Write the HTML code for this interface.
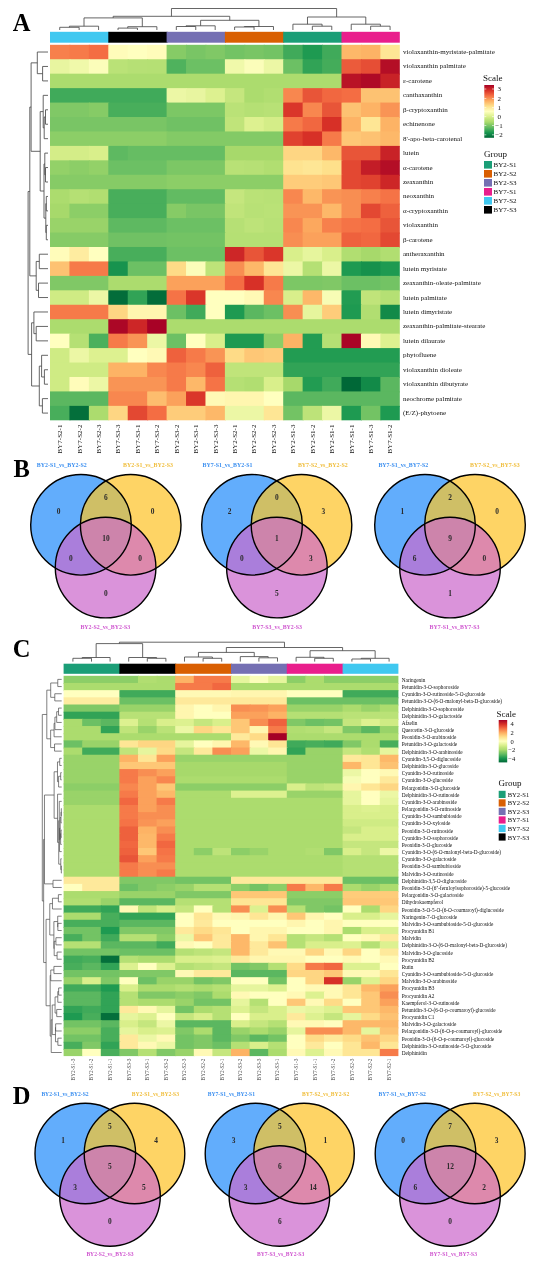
<!DOCTYPE html><html><head><meta charset="utf-8"><title>Figure</title><style>html,body{margin:0;padding:0;background:#fff;}svg{display:block;}</style></head><body>
<svg width="550" height="1264" viewBox="0 0 550 1264" font-family="'Liberation Serif','Times New Roman',serif">
<rect width="550" height="1264" fill="#fff"/>
<text x="12.8" y="30.5" font-size="24.5" font-weight="bold" fill="#000">A</text>
<text x="13.6" y="477.2" font-size="24.5" font-weight="bold" fill="#000">B</text>
<text x="12.8" y="656.8" font-size="24.5" font-weight="bold" fill="#000">C</text>
<text x="12.8" y="1104.3" font-size="24.5" font-weight="bold" fill="#000">D</text>
<rect x="50" y="44.8" width="20.43" height="15.44" fill="#f7804c"/>
<rect x="69.43" y="44.8" width="20.43" height="15.44" fill="#f67a49"/>
<rect x="88.87" y="44.8" width="20.43" height="15.44" fill="#f46d43"/>
<rect x="108.3" y="44.8" width="20.43" height="15.44" fill="#fffcba"/>
<rect x="127.73" y="44.8" width="20.43" height="15.44" fill="#ffffbf"/>
<rect x="147.17" y="44.8" width="20.43" height="15.44" fill="#fffcba"/>
<rect x="166.6" y="44.8" width="20.43" height="15.44" fill="#86cb66"/>
<rect x="186.03" y="44.8" width="20.43" height="15.44" fill="#79c565"/>
<rect x="205.47" y="44.8" width="20.43" height="15.44" fill="#80c866"/>
<rect x="224.9" y="44.8" width="20.43" height="15.44" fill="#73c364"/>
<rect x="244.33" y="44.8" width="20.43" height="15.44" fill="#79c565"/>
<rect x="263.77" y="44.8" width="20.43" height="15.44" fill="#73c364"/>
<rect x="283.2" y="44.8" width="20.43" height="15.44" fill="#40aa5a"/>
<rect x="302.63" y="44.8" width="20.43" height="15.44" fill="#1e9a51"/>
<rect x="322.07" y="44.8" width="20.43" height="15.44" fill="#40aa5a"/>
<rect x="341.5" y="44.8" width="20.43" height="15.44" fill="#fdb869"/>
<rect x="360.93" y="44.8" width="20.43" height="15.44" fill="#fdb365"/>
<rect x="380.37" y="44.8" width="19.43" height="15.44" fill="#fee695"/>
<rect x="50" y="59.24" width="20.43" height="15.44" fill="#e8f5a0"/>
<rect x="69.43" y="59.24" width="20.43" height="15.44" fill="#f0f9aa"/>
<rect x="88.87" y="59.24" width="20.43" height="15.44" fill="#fbfdba"/>
<rect x="108.3" y="59.24" width="20.43" height="15.44" fill="#bae277"/>
<rect x="127.73" y="59.24" width="20.43" height="15.44" fill="#b6e075"/>
<rect x="147.17" y="59.24" width="20.43" height="15.44" fill="#b5e074"/>
<rect x="166.6" y="59.24" width="20.43" height="15.44" fill="#4fb25d"/>
<rect x="186.03" y="59.24" width="39.87" height="15.44" fill="#6cc064"/>
<rect x="224.9" y="59.24" width="20.43" height="15.44" fill="#f0f9aa"/>
<rect x="244.33" y="59.24" width="20.43" height="15.44" fill="#fbfdba"/>
<rect x="263.77" y="59.24" width="20.43" height="15.44" fill="#ecf7a5"/>
<rect x="283.2" y="59.24" width="20.43" height="15.44" fill="#6cc064"/>
<rect x="302.63" y="59.24" width="20.43" height="15.44" fill="#31a356"/>
<rect x="322.07" y="59.24" width="20.43" height="15.44" fill="#44ac5a"/>
<rect x="341.5" y="59.24" width="20.43" height="15.44" fill="#eb5b3b"/>
<rect x="360.93" y="59.24" width="20.43" height="15.44" fill="#e64e35"/>
<rect x="380.37" y="59.24" width="19.43" height="15.44" fill="#b40e26"/>
<rect x="50" y="73.68" width="292.5" height="15.44" fill="#acdc6e"/>
<rect x="341.5" y="73.68" width="20.43" height="15.44" fill="#b91326"/>
<rect x="360.93" y="73.68" width="20.43" height="15.44" fill="#af0a26"/>
<rect x="380.37" y="73.68" width="19.43" height="15.44" fill="#c82227"/>
<rect x="50" y="88.13" width="117.6" height="15.44" fill="#40aa5a"/>
<rect x="166.6" y="88.13" width="20.43" height="15.44" fill="#ecf7a5"/>
<rect x="186.03" y="88.13" width="20.43" height="15.44" fill="#e8f5a0"/>
<rect x="205.47" y="88.13" width="20.43" height="15.44" fill="#ddf190"/>
<rect x="224.9" y="88.13" width="20.43" height="15.44" fill="#c5e67e"/>
<rect x="244.33" y="88.13" width="20.43" height="15.44" fill="#acdc6e"/>
<rect x="263.77" y="88.13" width="20.43" height="15.44" fill="#b1de71"/>
<rect x="283.2" y="88.13" width="20.43" height="15.44" fill="#f8874f"/>
<rect x="302.63" y="88.13" width="20.43" height="15.44" fill="#e85538"/>
<rect x="322.07" y="88.13" width="20.43" height="15.44" fill="#f16740"/>
<rect x="341.5" y="88.13" width="20.43" height="15.44" fill="#f46d43"/>
<rect x="360.93" y="88.13" width="38.87" height="15.44" fill="#fdc272"/>
<rect x="50" y="102.57" width="39.87" height="15.44" fill="#80c866"/>
<rect x="88.87" y="102.57" width="20.43" height="15.44" fill="#86cb66"/>
<rect x="108.3" y="102.57" width="59.3" height="15.44" fill="#48ae5b"/>
<rect x="166.6" y="102.57" width="59.3" height="15.44" fill="#7cc765"/>
<rect x="224.9" y="102.57" width="20.43" height="15.44" fill="#bae277"/>
<rect x="244.33" y="102.57" width="20.43" height="15.44" fill="#b5e074"/>
<rect x="263.77" y="102.57" width="20.43" height="15.44" fill="#b8e176"/>
<rect x="283.2" y="102.57" width="20.43" height="15.44" fill="#da362a"/>
<rect x="302.63" y="102.57" width="20.43" height="15.44" fill="#f8874f"/>
<rect x="322.07" y="102.57" width="20.43" height="15.44" fill="#e85538"/>
<rect x="341.5" y="102.57" width="20.43" height="15.44" fill="#fdc272"/>
<rect x="360.93" y="102.57" width="20.43" height="15.44" fill="#fdb365"/>
<rect x="380.37" y="102.57" width="19.43" height="15.44" fill="#f99455"/>
<rect x="50" y="117.01" width="117.6" height="15.44" fill="#79c565"/>
<rect x="166.6" y="117.01" width="59.3" height="15.44" fill="#70c164"/>
<rect x="224.9" y="117.01" width="20.43" height="15.44" fill="#c0e47a"/>
<rect x="244.33" y="117.01" width="20.43" height="15.44" fill="#ddf190"/>
<rect x="263.77" y="117.01" width="20.43" height="15.44" fill="#d4ed88"/>
<rect x="283.2" y="117.01" width="20.43" height="15.44" fill="#f67a49"/>
<rect x="302.63" y="117.01" width="20.43" height="15.44" fill="#f16740"/>
<rect x="322.07" y="117.01" width="20.43" height="15.44" fill="#d73027"/>
<rect x="341.5" y="117.01" width="20.43" height="15.44" fill="#fdb365"/>
<rect x="360.93" y="117.01" width="20.43" height="15.44" fill="#fee695"/>
<rect x="380.37" y="117.01" width="19.43" height="15.44" fill="#fdb365"/>
<rect x="50" y="131.45" width="117.6" height="15.44" fill="#8cce67"/>
<rect x="166.6" y="131.45" width="117.6" height="15.44" fill="#83ca66"/>
<rect x="283.2" y="131.45" width="20.43" height="15.44" fill="#e0422f"/>
<rect x="302.63" y="131.45" width="20.43" height="15.44" fill="#d73027"/>
<rect x="322.07" y="131.45" width="20.43" height="15.44" fill="#f67a49"/>
<rect x="341.5" y="131.45" width="20.43" height="15.44" fill="#fec776"/>
<rect x="360.93" y="131.45" width="20.43" height="15.44" fill="#fdc272"/>
<rect x="380.37" y="131.45" width="19.43" height="15.44" fill="#fdb869"/>
<rect x="50" y="145.9" width="39.87" height="15.44" fill="#d4ed88"/>
<rect x="88.87" y="145.9" width="20.43" height="15.44" fill="#d9ef8b"/>
<rect x="108.3" y="145.9" width="20.43" height="15.44" fill="#5eb961"/>
<rect x="127.73" y="145.9" width="98.17" height="15.44" fill="#66bd63"/>
<rect x="224.9" y="145.9" width="59.3" height="15.44" fill="#a7d96b"/>
<rect x="283.2" y="145.9" width="39.87" height="15.44" fill="#fed683"/>
<rect x="322.07" y="145.9" width="20.43" height="15.44" fill="#fdb869"/>
<rect x="341.5" y="145.9" width="39.87" height="15.44" fill="#e85538"/>
<rect x="380.37" y="145.9" width="19.43" height="15.44" fill="#c82227"/>
<rect x="50" y="160.34" width="20.43" height="15.44" fill="#93d168"/>
<rect x="69.43" y="160.34" width="20.43" height="15.44" fill="#8cce67"/>
<rect x="88.87" y="160.34" width="20.43" height="15.44" fill="#93d168"/>
<rect x="108.3" y="160.34" width="59.3" height="15.44" fill="#6cc064"/>
<rect x="166.6" y="160.34" width="59.3" height="15.44" fill="#7cc765"/>
<rect x="224.9" y="160.34" width="20.43" height="15.44" fill="#b8e176"/>
<rect x="244.33" y="160.34" width="20.43" height="15.44" fill="#b6e075"/>
<rect x="263.77" y="160.34" width="20.43" height="15.44" fill="#b1de71"/>
<rect x="283.2" y="160.34" width="20.43" height="15.44" fill="#fee390"/>
<rect x="302.63" y="160.34" width="20.43" height="15.44" fill="#fee695"/>
<rect x="322.07" y="160.34" width="20.43" height="15.44" fill="#fee08b"/>
<rect x="341.5" y="160.34" width="20.43" height="15.44" fill="#e34832"/>
<rect x="360.93" y="160.34" width="20.43" height="15.44" fill="#c31d27"/>
<rect x="380.37" y="160.34" width="19.43" height="15.44" fill="#b40e26"/>
<rect x="50" y="174.78" width="117.6" height="15.44" fill="#86cb66"/>
<rect x="166.6" y="174.78" width="117.6" height="15.44" fill="#8cce67"/>
<rect x="283.2" y="174.78" width="39.87" height="15.44" fill="#fecc7a"/>
<rect x="322.07" y="174.78" width="20.43" height="15.44" fill="#fec776"/>
<rect x="341.5" y="174.78" width="20.43" height="15.44" fill="#e34832"/>
<rect x="360.93" y="174.78" width="20.43" height="15.44" fill="#e0422f"/>
<rect x="380.37" y="174.78" width="19.43" height="15.44" fill="#cd2627"/>
<rect x="50" y="189.22" width="20.43" height="15.44" fill="#acdc6e"/>
<rect x="69.43" y="189.22" width="20.43" height="15.44" fill="#b5e074"/>
<rect x="88.87" y="189.22" width="20.43" height="15.44" fill="#b1de71"/>
<rect x="108.3" y="189.22" width="59.3" height="15.44" fill="#48ae5b"/>
<rect x="166.6" y="189.22" width="59.3" height="15.44" fill="#62bb62"/>
<rect x="224.9" y="189.22" width="20.43" height="15.44" fill="#c5e67e"/>
<rect x="244.33" y="189.22" width="20.43" height="15.44" fill="#bae277"/>
<rect x="263.77" y="189.22" width="20.43" height="15.44" fill="#b8e176"/>
<rect x="283.2" y="189.22" width="20.43" height="15.44" fill="#f8874f"/>
<rect x="302.63" y="189.22" width="20.43" height="15.44" fill="#fdb869"/>
<rect x="322.07" y="189.22" width="20.43" height="15.44" fill="#f99455"/>
<rect x="341.5" y="189.22" width="20.43" height="15.44" fill="#f88e52"/>
<rect x="360.93" y="189.22" width="20.43" height="15.44" fill="#f7804c"/>
<rect x="380.37" y="189.22" width="19.43" height="15.44" fill="#f57346"/>
<rect x="50" y="203.67" width="20.43" height="15.44" fill="#a7d96b"/>
<rect x="69.43" y="203.67" width="39.87" height="15.44" fill="#8cce67"/>
<rect x="108.3" y="203.67" width="59.3" height="15.44" fill="#48ae5b"/>
<rect x="166.6" y="203.67" width="20.43" height="15.44" fill="#86cb66"/>
<rect x="186.03" y="203.67" width="39.87" height="15.44" fill="#79c565"/>
<rect x="224.9" y="203.67" width="20.43" height="15.44" fill="#c0e47a"/>
<rect x="244.33" y="203.67" width="20.43" height="15.44" fill="#b8e176"/>
<rect x="263.77" y="203.67" width="20.43" height="15.44" fill="#bae277"/>
<rect x="283.2" y="203.67" width="39.87" height="15.44" fill="#f99455"/>
<rect x="322.07" y="203.67" width="20.43" height="15.44" fill="#fdb869"/>
<rect x="341.5" y="203.67" width="20.43" height="15.44" fill="#f88e52"/>
<rect x="360.93" y="203.67" width="20.43" height="15.44" fill="#e34832"/>
<rect x="380.37" y="203.67" width="19.43" height="15.44" fill="#ee613d"/>
<rect x="50" y="218.11" width="59.3" height="15.44" fill="#99d369"/>
<rect x="108.3" y="218.11" width="59.3" height="15.44" fill="#5eb961"/>
<rect x="166.6" y="218.11" width="59.3" height="15.44" fill="#6cc064"/>
<rect x="224.9" y="218.11" width="20.43" height="15.44" fill="#b6e075"/>
<rect x="244.33" y="218.11" width="20.43" height="15.44" fill="#bde379"/>
<rect x="263.77" y="218.11" width="20.43" height="15.44" fill="#b8e176"/>
<rect x="283.2" y="218.11" width="20.43" height="15.44" fill="#f8874f"/>
<rect x="302.63" y="218.11" width="20.43" height="15.44" fill="#fca85e"/>
<rect x="322.07" y="218.11" width="20.43" height="15.44" fill="#f7804c"/>
<rect x="341.5" y="218.11" width="20.43" height="15.44" fill="#f57346"/>
<rect x="360.93" y="218.11" width="20.43" height="15.44" fill="#f46d43"/>
<rect x="380.37" y="218.11" width="19.43" height="15.44" fill="#e85538"/>
<rect x="50" y="232.55" width="59.3" height="15.44" fill="#86cb66"/>
<rect x="108.3" y="232.55" width="59.3" height="15.44" fill="#70c164"/>
<rect x="166.6" y="232.55" width="59.3" height="15.44" fill="#73c364"/>
<rect x="224.9" y="232.55" width="59.3" height="15.44" fill="#b5e074"/>
<rect x="283.2" y="232.55" width="20.43" height="15.44" fill="#f88e52"/>
<rect x="302.63" y="232.55" width="39.87" height="15.44" fill="#fba15b"/>
<rect x="341.5" y="232.55" width="20.43" height="15.44" fill="#ee613d"/>
<rect x="360.93" y="232.55" width="20.43" height="15.44" fill="#f16740"/>
<rect x="380.37" y="232.55" width="19.43" height="15.44" fill="#e34832"/>
<rect x="50" y="246.99" width="20.43" height="15.44" fill="#fffcba"/>
<rect x="69.43" y="246.99" width="20.43" height="15.44" fill="#feeca0"/>
<rect x="88.87" y="246.99" width="20.43" height="15.44" fill="#ffffbf"/>
<rect x="108.3" y="246.99" width="59.3" height="15.44" fill="#48ae5b"/>
<rect x="166.6" y="246.99" width="59.3" height="15.44" fill="#6cc064"/>
<rect x="224.9" y="246.99" width="20.43" height="15.44" fill="#cd2627"/>
<rect x="244.33" y="246.99" width="20.43" height="15.44" fill="#e85538"/>
<rect x="263.77" y="246.99" width="20.43" height="15.44" fill="#da362a"/>
<rect x="283.2" y="246.99" width="20.43" height="15.44" fill="#d9ef8b"/>
<rect x="302.63" y="246.99" width="20.43" height="15.44" fill="#e6f59d"/>
<rect x="322.07" y="246.99" width="20.43" height="15.44" fill="#d9ef8b"/>
<rect x="341.5" y="246.99" width="20.43" height="15.44" fill="#b1de71"/>
<rect x="360.93" y="246.99" width="20.43" height="15.44" fill="#a7d96b"/>
<rect x="380.37" y="246.99" width="19.43" height="15.44" fill="#b1de71"/>
<rect x="50" y="261.43" width="20.43" height="15.44" fill="#fdc272"/>
<rect x="69.43" y="261.43" width="39.87" height="15.44" fill="#f67a49"/>
<rect x="108.3" y="261.43" width="20.43" height="15.44" fill="#17934e"/>
<rect x="127.73" y="261.43" width="39.87" height="15.44" fill="#6cc064"/>
<rect x="166.6" y="261.43" width="20.43" height="15.44" fill="#fedb87"/>
<rect x="186.03" y="261.43" width="20.43" height="15.44" fill="#fbfdba"/>
<rect x="205.47" y="261.43" width="20.43" height="15.44" fill="#bde379"/>
<rect x="224.9" y="261.43" width="20.43" height="15.44" fill="#f88e52"/>
<rect x="244.33" y="261.43" width="20.43" height="15.44" fill="#fdb869"/>
<rect x="263.77" y="261.43" width="20.43" height="15.44" fill="#fee695"/>
<rect x="283.2" y="261.43" width="20.43" height="15.44" fill="#ecf7a5"/>
<rect x="302.63" y="261.43" width="20.43" height="15.44" fill="#b5e074"/>
<rect x="322.07" y="261.43" width="20.43" height="15.44" fill="#ecf7a5"/>
<rect x="341.5" y="261.43" width="20.43" height="15.44" fill="#1e9a51"/>
<rect x="360.93" y="261.43" width="20.43" height="15.44" fill="#16914c"/>
<rect x="380.37" y="261.43" width="19.43" height="15.44" fill="#1e9a51"/>
<rect x="50" y="275.88" width="59.3" height="15.44" fill="#80c866"/>
<rect x="108.3" y="275.88" width="59.3" height="15.44" fill="#acdc6e"/>
<rect x="166.6" y="275.88" width="59.3" height="15.44" fill="#fba15b"/>
<rect x="224.9" y="275.88" width="20.43" height="15.44" fill="#f46d43"/>
<rect x="244.33" y="275.88" width="20.43" height="15.44" fill="#d73027"/>
<rect x="263.77" y="275.88" width="20.43" height="15.44" fill="#f67a49"/>
<rect x="283.2" y="275.88" width="39.87" height="15.44" fill="#7cc765"/>
<rect x="322.07" y="275.88" width="20.43" height="15.44" fill="#80c866"/>
<rect x="341.5" y="275.88" width="39.87" height="15.44" fill="#6cc064"/>
<rect x="380.37" y="275.88" width="19.43" height="15.44" fill="#73c364"/>
<rect x="50" y="290.32" width="39.87" height="15.44" fill="#cfeb84"/>
<rect x="88.87" y="290.32" width="20.43" height="15.44" fill="#ecf7a5"/>
<rect x="108.3" y="290.32" width="20.43" height="15.44" fill="#036d3a"/>
<rect x="127.73" y="290.32" width="20.43" height="15.44" fill="#31a356"/>
<rect x="147.17" y="290.32" width="20.43" height="15.44" fill="#036d3a"/>
<rect x="166.6" y="290.32" width="20.43" height="15.44" fill="#f57346"/>
<rect x="186.03" y="290.32" width="20.43" height="15.44" fill="#da362a"/>
<rect x="205.47" y="290.32" width="39.87" height="15.44" fill="#ffffbf"/>
<rect x="244.33" y="290.32" width="20.43" height="15.44" fill="#fff9b5"/>
<rect x="263.77" y="290.32" width="20.43" height="15.44" fill="#f8874f"/>
<rect x="283.2" y="290.32" width="20.43" height="15.44" fill="#d9ef8b"/>
<rect x="302.63" y="290.32" width="20.43" height="15.44" fill="#fdb869"/>
<rect x="322.07" y="290.32" width="20.43" height="15.44" fill="#f7fcb5"/>
<rect x="341.5" y="290.32" width="20.43" height="15.44" fill="#229c52"/>
<rect x="360.93" y="290.32" width="20.43" height="15.44" fill="#c0e47a"/>
<rect x="380.37" y="290.32" width="19.43" height="15.44" fill="#b5e074"/>
<rect x="50" y="304.76" width="59.3" height="15.44" fill="#f67a49"/>
<rect x="108.3" y="304.76" width="20.43" height="15.44" fill="#fed683"/>
<rect x="127.73" y="304.76" width="39.87" height="15.44" fill="#fff6af"/>
<rect x="166.6" y="304.76" width="20.43" height="15.44" fill="#6cc064"/>
<rect x="186.03" y="304.76" width="20.43" height="15.44" fill="#40aa5a"/>
<rect x="205.47" y="304.76" width="20.43" height="15.44" fill="#ffffbf"/>
<rect x="224.9" y="304.76" width="20.43" height="15.44" fill="#1e9a51"/>
<rect x="244.33" y="304.76" width="20.43" height="15.44" fill="#5bb760"/>
<rect x="263.77" y="304.76" width="20.43" height="15.44" fill="#6cc064"/>
<rect x="283.2" y="304.76" width="20.43" height="15.44" fill="#f88e52"/>
<rect x="302.63" y="304.76" width="20.43" height="15.44" fill="#e6f59d"/>
<rect x="322.07" y="304.76" width="20.43" height="15.44" fill="#fecc7a"/>
<rect x="341.5" y="304.76" width="20.43" height="15.44" fill="#1e9a51"/>
<rect x="360.93" y="304.76" width="20.43" height="15.44" fill="#b1de71"/>
<rect x="380.37" y="304.76" width="19.43" height="15.44" fill="#128a48"/>
<rect x="50" y="319.2" width="59.3" height="15.44" fill="#acdc6e"/>
<rect x="108.3" y="319.2" width="20.43" height="15.44" fill="#ac0726"/>
<rect x="127.73" y="319.2" width="20.43" height="15.44" fill="#cd2627"/>
<rect x="147.17" y="319.2" width="20.43" height="15.44" fill="#a80226"/>
<rect x="166.6" y="319.2" width="233.2" height="15.44" fill="#acdc6e"/>
<rect x="50" y="333.65" width="20.43" height="15.44" fill="#ffffbf"/>
<rect x="69.43" y="333.65" width="20.43" height="15.44" fill="#b5e074"/>
<rect x="88.87" y="333.65" width="20.43" height="15.44" fill="#4bb05c"/>
<rect x="108.3" y="333.65" width="20.43" height="15.44" fill="#f67a49"/>
<rect x="127.73" y="333.65" width="20.43" height="15.44" fill="#f99455"/>
<rect x="147.17" y="333.65" width="20.43" height="15.44" fill="#ecf7a5"/>
<rect x="166.6" y="333.65" width="20.43" height="15.44" fill="#6cc064"/>
<rect x="186.03" y="333.65" width="20.43" height="15.44" fill="#ffffbf"/>
<rect x="205.47" y="333.65" width="20.43" height="15.44" fill="#d9ef8b"/>
<rect x="224.9" y="333.65" width="39.87" height="15.44" fill="#1e9a51"/>
<rect x="263.77" y="333.65" width="20.43" height="15.44" fill="#8cce67"/>
<rect x="283.2" y="333.65" width="20.43" height="15.44" fill="#fdb365"/>
<rect x="302.63" y="333.65" width="20.43" height="15.44" fill="#229c52"/>
<rect x="322.07" y="333.65" width="20.43" height="15.44" fill="#b5e074"/>
<rect x="341.5" y="333.65" width="20.43" height="15.44" fill="#aa0526"/>
<rect x="360.93" y="333.65" width="20.43" height="15.44" fill="#fff9b5"/>
<rect x="380.37" y="333.65" width="19.43" height="15.44" fill="#ddf190"/>
<rect x="50" y="348.09" width="20.43" height="15.44" fill="#cfeb84"/>
<rect x="69.43" y="348.09" width="20.43" height="15.44" fill="#ecf7a5"/>
<rect x="88.87" y="348.09" width="39.87" height="15.44" fill="#ddf190"/>
<rect x="127.73" y="348.09" width="20.43" height="15.44" fill="#ffffbf"/>
<rect x="147.17" y="348.09" width="20.43" height="15.44" fill="#fff9b5"/>
<rect x="166.6" y="348.09" width="20.43" height="15.44" fill="#ee613d"/>
<rect x="186.03" y="348.09" width="20.43" height="15.44" fill="#f67a49"/>
<rect x="205.47" y="348.09" width="20.43" height="15.44" fill="#f99455"/>
<rect x="224.9" y="348.09" width="20.43" height="15.44" fill="#fedb87"/>
<rect x="244.33" y="348.09" width="20.43" height="15.44" fill="#fec776"/>
<rect x="263.77" y="348.09" width="20.43" height="15.44" fill="#fecc7a"/>
<rect x="283.2" y="348.09" width="116.6" height="15.44" fill="#229c52"/>
<rect x="50" y="362.53" width="59.3" height="15.44" fill="#cfeb84"/>
<rect x="108.3" y="362.53" width="39.87" height="15.44" fill="#fdb365"/>
<rect x="147.17" y="362.53" width="20.43" height="15.44" fill="#f8874f"/>
<rect x="166.6" y="362.53" width="20.43" height="15.44" fill="#f67a49"/>
<rect x="186.03" y="362.53" width="20.43" height="15.44" fill="#f8874f"/>
<rect x="205.47" y="362.53" width="20.43" height="15.44" fill="#ee613d"/>
<rect x="224.9" y="362.53" width="59.3" height="15.44" fill="#c0e47a"/>
<rect x="283.2" y="362.53" width="116.6" height="15.44" fill="#31a356"/>
<rect x="50" y="376.97" width="20.43" height="15.44" fill="#cfeb84"/>
<rect x="69.43" y="376.97" width="20.43" height="15.44" fill="#fffcba"/>
<rect x="88.87" y="376.97" width="20.43" height="15.44" fill="#ecf7a5"/>
<rect x="108.3" y="376.97" width="59.3" height="15.44" fill="#f99455"/>
<rect x="166.6" y="376.97" width="20.43" height="15.44" fill="#f67a49"/>
<rect x="186.03" y="376.97" width="20.43" height="15.44" fill="#fdb869"/>
<rect x="205.47" y="376.97" width="20.43" height="15.44" fill="#f57346"/>
<rect x="224.9" y="376.97" width="20.43" height="15.44" fill="#b5e074"/>
<rect x="244.33" y="376.97" width="20.43" height="15.44" fill="#b1de71"/>
<rect x="263.77" y="376.97" width="20.43" height="15.44" fill="#d9ef8b"/>
<rect x="283.2" y="376.97" width="20.43" height="15.44" fill="#a7d96b"/>
<rect x="302.63" y="376.97" width="20.43" height="15.44" fill="#229c52"/>
<rect x="322.07" y="376.97" width="20.43" height="15.44" fill="#40aa5a"/>
<rect x="341.5" y="376.97" width="20.43" height="15.44" fill="#006837"/>
<rect x="360.93" y="376.97" width="20.43" height="15.44" fill="#128a48"/>
<rect x="380.37" y="376.97" width="19.43" height="15.44" fill="#5bb760"/>
<rect x="50" y="391.42" width="59.3" height="15.44" fill="#5bb760"/>
<rect x="108.3" y="391.42" width="39.87" height="15.44" fill="#f8874f"/>
<rect x="147.17" y="391.42" width="20.43" height="15.44" fill="#fdbd6e"/>
<rect x="166.6" y="391.42" width="20.43" height="15.44" fill="#fba15b"/>
<rect x="186.03" y="391.42" width="20.43" height="15.44" fill="#da362a"/>
<rect x="205.47" y="391.42" width="20.43" height="15.44" fill="#fff9b5"/>
<rect x="224.9" y="391.42" width="39.87" height="15.44" fill="#fff6af"/>
<rect x="263.77" y="391.42" width="20.43" height="15.44" fill="#ffffbf"/>
<rect x="283.2" y="391.42" width="116.6" height="15.44" fill="#5bb760"/>
<rect x="50" y="405.86" width="20.43" height="14.44" fill="#48ae5b"/>
<rect x="69.43" y="405.86" width="20.43" height="14.44" fill="#046f3b"/>
<rect x="88.87" y="405.86" width="20.43" height="14.44" fill="#acdc6e"/>
<rect x="108.3" y="405.86" width="20.43" height="14.44" fill="#fed683"/>
<rect x="127.73" y="405.86" width="20.43" height="14.44" fill="#e34832"/>
<rect x="147.17" y="405.86" width="20.43" height="14.44" fill="#f46d43"/>
<rect x="166.6" y="405.86" width="39.87" height="14.44" fill="#fecc7a"/>
<rect x="205.47" y="405.86" width="20.43" height="14.44" fill="#fdb869"/>
<rect x="224.9" y="405.86" width="39.87" height="14.44" fill="#ecf7a5"/>
<rect x="263.77" y="405.86" width="20.43" height="14.44" fill="#fee695"/>
<rect x="283.2" y="405.86" width="20.43" height="14.44" fill="#73c364"/>
<rect x="302.63" y="405.86" width="20.43" height="14.44" fill="#bde379"/>
<rect x="322.07" y="405.86" width="20.43" height="14.44" fill="#ecf7a5"/>
<rect x="341.5" y="405.86" width="20.43" height="14.44" fill="#1e9a51"/>
<rect x="360.93" y="405.86" width="20.43" height="14.44" fill="#73c364"/>
<rect x="380.37" y="405.86" width="19.43" height="14.44" fill="#1e9a51"/>
<rect x="50" y="31.8" width="59.3" height="10.9" fill="#40c8f0"/>
<rect x="108.3" y="31.8" width="59.3" height="10.9" fill="#000000"/>
<rect x="166.6" y="31.8" width="59.3" height="10.9" fill="#7570b3"/>
<rect x="224.9" y="31.8" width="59.3" height="10.9" fill="#d95f02"/>
<rect x="283.2" y="31.8" width="59.3" height="10.9" fill="#1b9e77"/>
<rect x="341.5" y="31.8" width="58.3" height="10.9" fill="#e91e8c"/>
<path d="M59.72 30L59.72 27.3 M79.15 30L79.15 27.3 M59.72 27.3L79.15 27.3 M69.43 27.3L69.43 26.2 M98.58 30L98.58 26.2 M69.43 26.2L98.58 26.2 M118.02 30L118.02 28.1 M137.45 30L137.45 28.1 M118.02 28.1L137.45 28.1 M127.73 28.1L127.73 26.7 M156.88 30L156.88 26.7 M127.73 26.7L156.88 26.7 M84.01 26.2L84.01 17.9 M142.31 26.7L142.31 17.9 M84.01 17.9L142.31 17.9 M176.32 30L176.32 26.5 M195.75 30L195.75 26.5 M176.32 26.5L195.75 26.5 M186.03 26.5L186.03 25.8 M215.18 30L215.18 25.8 M186.03 25.8L215.18 25.8 M234.62 30L234.62 27 M254.05 30L254.05 27 M234.62 27L254.05 27 M244.33 27L244.33 26.5 M273.48 30L273.48 26.5 M244.33 26.5L273.48 26.5 M200.61 25.8L200.61 20.3 M258.91 26.5L258.91 20.3 M200.61 20.3L258.91 20.3 M113.16 17.9L113.16 16.3 M229.76 20.3L229.76 16.3 M113.16 16.3L229.76 16.3 M312.35 30L312.35 26.2 M331.78 30L331.78 26.2 M312.35 26.2L331.78 26.2 M292.92 30L292.92 24.2 M322.07 26.2L322.07 24.2 M292.92 24.2L322.07 24.2 M370.65 30L370.65 26.2 M390.08 30L390.08 26.2 M370.65 26.2L390.08 26.2 M351.22 30L351.22 24.2 M380.37 26.2L380.37 24.2 M351.22 24.2L380.37 24.2 M307.49 24.2L307.49 17 M365.79 24.2L365.79 17 M307.49 17L365.79 17 M171.46 16.3L171.46 8.5 M336.64 17L336.64 8.5 M171.46 8.5L336.64 8.5" stroke="#4a4a4a" stroke-width="0.85" fill="none"/>
<path d="M48 66.46L42.6 66.46 M48 80.91L42.6 80.91 M42.6 66.46L42.6 80.91 M48 52.02L37.3 52.02 M42.6 73.68L37.3 73.68 M37.3 52.02L37.3 73.68 M48 109.79L45.5 109.79 M48 124.23L45.5 124.23 M45.5 109.79L45.5 124.23 M45.5 117.01L44.2 117.01 M48 138.68L44.2 138.68 M44.2 117.01L44.2 138.68 M48 95.35L43.2 95.35 M44.2 127.84L43.2 127.84 M43.2 95.35L43.2 127.84 M48 167.56L45.5 167.56 M48 182L45.5 182 M45.5 167.56L45.5 182 M48 153.12L44.8 153.12 M45.5 174.78L44.8 174.78 M44.8 153.12L44.8 174.78 M48 196.44L46.3 196.44 M48 210.89L46.3 210.89 M46.3 196.44L46.3 210.89 M48 225.33L46.3 225.33 M48 239.77L46.3 239.77 M46.3 225.33L46.3 239.77 M46.3 203.67L45.8 203.67 M46.3 232.55L45.8 232.55 M45.8 203.67L45.8 232.55 M44.8 163.95L44 163.95 M45.8 218.11L44 218.11 M44 163.95L44 218.11 M43.2 111.6L40.2 111.6 M44 191.03L40.2 191.03 M40.2 111.6L40.2 191.03 M37.3 62.85L31.1 62.85 M40.2 151.31L31.1 151.31 M31.1 62.85L31.1 151.31 M48 254.21L39.3 254.21 M48 268.66L39.3 268.66 M39.3 254.21L39.3 268.66 M48 283.1L38.5 283.1 M48 297.54L38.5 297.54 M38.5 283.1L38.5 297.54 M39.3 261.43L36.2 261.43 M38.5 290.32L36.2 290.32 M36.2 261.43L36.2 290.32 M31.1 107.08L29.8 107.08 M36.2 275.88L29.8 275.88 M29.8 107.08L29.8 275.88 M48 326.43L36.2 326.43 M48 340.87L36.2 340.87 M36.2 326.43L36.2 340.87 M48 311.98L33.9 311.98 M36.2 333.65L33.9 333.65 M33.9 311.98L33.9 333.65 M48 369.75L44.4 369.75 M48 384.19L44.4 384.19 M44.4 369.75L44.4 384.19 M48 355.31L41.6 355.31 M44.4 376.97L41.6 376.97 M41.6 355.31L41.6 376.97 M48 398.64L42.4 398.64 M48 413.08L42.4 413.08 M42.4 398.64L42.4 413.08 M41.6 366.14L39.3 366.14 M42.4 405.86L39.3 405.86 M39.3 366.14L39.3 405.86 M33.9 322.81L31.6 322.81 M39.3 386L31.6 386 M31.6 322.81L31.6 386 M29.8 191.48L28.1 191.48 M31.6 354.41L28.1 354.41 M28.1 191.48L28.1 354.41" stroke="#4a4a4a" stroke-width="0.85" fill="none"/>
<text x="403" y="52.02" font-size="7" fill="#111" dominant-baseline="central">violaxanthin-myristate-palmitate</text>
<text x="403" y="66.46" font-size="7" fill="#111" dominant-baseline="central">violaxanthin palmitate</text>
<text x="403" y="80.91" font-size="7" fill="#111" dominant-baseline="central">ε-carotene</text>
<text x="403" y="95.35" font-size="7" fill="#111" dominant-baseline="central">canthaxanthin</text>
<text x="403" y="109.79" font-size="7" fill="#111" dominant-baseline="central">β-cryptoxanthin</text>
<text x="403" y="124.23" font-size="7" fill="#111" dominant-baseline="central">echinenone</text>
<text x="403" y="138.68" font-size="7" fill="#111" dominant-baseline="central">8'-apo-beta-carotenal</text>
<text x="403" y="153.12" font-size="7" fill="#111" dominant-baseline="central">lutein</text>
<text x="403" y="167.56" font-size="7" fill="#111" dominant-baseline="central">α-carotene</text>
<text x="403" y="182" font-size="7" fill="#111" dominant-baseline="central">zeaxanthin</text>
<text x="403" y="196.44" font-size="7" fill="#111" dominant-baseline="central">neoxanthin</text>
<text x="403" y="210.89" font-size="7" fill="#111" dominant-baseline="central">α-cryptoxanthin</text>
<text x="403" y="225.33" font-size="7" fill="#111" dominant-baseline="central">violaxanthin</text>
<text x="403" y="239.77" font-size="7" fill="#111" dominant-baseline="central">β-carotene</text>
<text x="403" y="254.21" font-size="7" fill="#111" dominant-baseline="central">antheraxanthin</text>
<text x="403" y="268.66" font-size="7" fill="#111" dominant-baseline="central">lutein myristate</text>
<text x="403" y="283.1" font-size="7" fill="#111" dominant-baseline="central">zeaxanthin-oleate-palmitate</text>
<text x="403" y="297.54" font-size="7" fill="#111" dominant-baseline="central">lutein palmitate</text>
<text x="403" y="311.98" font-size="7" fill="#111" dominant-baseline="central">lutein dimyristate</text>
<text x="403" y="326.43" font-size="7" fill="#111" dominant-baseline="central">zeaxanthin-palmitate-stearate</text>
<text x="403" y="340.87" font-size="7" fill="#111" dominant-baseline="central">lutein dilaurate</text>
<text x="403" y="355.31" font-size="7" fill="#111" dominant-baseline="central">phytofluene</text>
<text x="403" y="369.75" font-size="7" fill="#111" dominant-baseline="central">violaxanthin dioleate</text>
<text x="403" y="384.19" font-size="7" fill="#111" dominant-baseline="central">violaxanthin dibutyrate</text>
<text x="403" y="398.64" font-size="7" fill="#111" dominant-baseline="central">neochrome palmitate</text>
<text x="403" y="413.08" font-size="7" fill="#111" dominant-baseline="central">(E/Z)-phytoene</text>
<text transform="translate(62.12 424.6) rotate(-90)" font-size="7" fill="#111" text-anchor="end">BY7-S2-1</text>
<text transform="translate(81.55 424.6) rotate(-90)" font-size="7" fill="#111" text-anchor="end">BY7-S2-2</text>
<text transform="translate(100.98 424.6) rotate(-90)" font-size="7" fill="#111" text-anchor="end">BY7-S2-3</text>
<text transform="translate(120.42 424.6) rotate(-90)" font-size="7" fill="#111" text-anchor="end">BY7-S3-3</text>
<text transform="translate(139.85 424.6) rotate(-90)" font-size="7" fill="#111" text-anchor="end">BY7-S3-1</text>
<text transform="translate(159.28 424.6) rotate(-90)" font-size="7" fill="#111" text-anchor="end">BY7-S3-2</text>
<text transform="translate(178.72 424.6) rotate(-90)" font-size="7" fill="#111" text-anchor="end">BY2-S3-2</text>
<text transform="translate(198.15 424.6) rotate(-90)" font-size="7" fill="#111" text-anchor="end">BY2-S3-1</text>
<text transform="translate(217.58 424.6) rotate(-90)" font-size="7" fill="#111" text-anchor="end">BY2-S3-3</text>
<text transform="translate(237.02 424.6) rotate(-90)" font-size="7" fill="#111" text-anchor="end">BY2-S2-1</text>
<text transform="translate(256.45 424.6) rotate(-90)" font-size="7" fill="#111" text-anchor="end">BY2-S2-2</text>
<text transform="translate(275.88 424.6) rotate(-90)" font-size="7" fill="#111" text-anchor="end">BY2-S2-3</text>
<text transform="translate(295.32 424.6) rotate(-90)" font-size="7" fill="#111" text-anchor="end">BY2-S1-3</text>
<text transform="translate(314.75 424.6) rotate(-90)" font-size="7" fill="#111" text-anchor="end">BY2-S1-2</text>
<text transform="translate(334.18 424.6) rotate(-90)" font-size="7" fill="#111" text-anchor="end">BY2-S1-1</text>
<text transform="translate(353.62 424.6) rotate(-90)" font-size="7" fill="#111" text-anchor="end">BY7-S1-1</text>
<text transform="translate(373.05 424.6) rotate(-90)" font-size="7" fill="#111" text-anchor="end">BY7-S1-3</text>
<text transform="translate(392.48 424.6) rotate(-90)" font-size="7" fill="#111" text-anchor="end">BY7-S1-2</text>
<text x="483" y="81.2" font-size="9" fill="#111">Scale</text>
<defs><linearGradient id="gA" x1="0" y1="1" x2="0" y2="0"><stop offset="0" stop-color="#006837"/><stop offset="0.05" stop-color="#0d8044"/><stop offset="0.1" stop-color="#1a9850"/><stop offset="0.15" stop-color="#40aa5a"/><stop offset="0.2" stop-color="#66bd63"/><stop offset="0.25" stop-color="#86cb66"/><stop offset="0.3" stop-color="#acdc6e"/><stop offset="0.35" stop-color="#c0e47a"/><stop offset="0.4" stop-color="#d9ef8b"/><stop offset="0.45" stop-color="#ecf7a5"/><stop offset="0.5" stop-color="#ffffbf"/><stop offset="0.55" stop-color="#fef0a5"/><stop offset="0.6" stop-color="#fee08b"/><stop offset="0.65" stop-color="#fec776"/><stop offset="0.7" stop-color="#fdae61"/><stop offset="0.75" stop-color="#f88e52"/><stop offset="0.8" stop-color="#f46d43"/><stop offset="0.85" stop-color="#e64e35"/><stop offset="0.9" stop-color="#d73027"/><stop offset="0.95" stop-color="#be1826"/><stop offset="1" stop-color="#a50026"/></linearGradient>
<linearGradient id="gC" x1="0" y1="1" x2="0" y2="0"><stop offset="0" stop-color="#006837"/><stop offset="0.05" stop-color="#0d8044"/><stop offset="0.1" stop-color="#1a9850"/><stop offset="0.15" stop-color="#40aa5a"/><stop offset="0.2" stop-color="#66bd63"/><stop offset="0.25" stop-color="#86cb66"/><stop offset="0.3" stop-color="#acdc6e"/><stop offset="0.35" stop-color="#c0e47a"/><stop offset="0.4" stop-color="#d9ef8b"/><stop offset="0.45" stop-color="#ecf7a5"/><stop offset="0.5" stop-color="#ffffbf"/><stop offset="0.55" stop-color="#fef0a5"/><stop offset="0.6" stop-color="#fee08b"/><stop offset="0.65" stop-color="#fec776"/><stop offset="0.7" stop-color="#fdae61"/><stop offset="0.75" stop-color="#f88e52"/><stop offset="0.8" stop-color="#f46d43"/><stop offset="0.85" stop-color="#e64e35"/><stop offset="0.9" stop-color="#d73027"/><stop offset="0.95" stop-color="#be1826"/><stop offset="1" stop-color="#a50026"/></linearGradient></defs>
<rect x="484.3" y="85" width="9.7" height="52.8" fill="url(#gA)"/>
<line x1="484.3" x2="486.3" y1="89.0" y2="89.0" stroke="#fff" stroke-width="0.6"/><line x1="492" x2="494" y1="89.0" y2="89.0" stroke="#fff" stroke-width="0.6"/>
<text x="497.5" y="89.0" font-size="7" fill="#111" dominant-baseline="central">3</text>
<line x1="484.3" x2="486.3" y1="98.5" y2="98.5" stroke="#fff" stroke-width="0.6"/><line x1="492" x2="494" y1="98.5" y2="98.5" stroke="#fff" stroke-width="0.6"/>
<text x="497.5" y="98.5" font-size="7" fill="#111" dominant-baseline="central">2</text>
<line x1="484.3" x2="486.3" y1="107.6" y2="107.6" stroke="#fff" stroke-width="0.6"/><line x1="492" x2="494" y1="107.6" y2="107.6" stroke="#fff" stroke-width="0.6"/>
<text x="497.5" y="107.6" font-size="7" fill="#111" dominant-baseline="central">1</text>
<line x1="484.3" x2="486.3" y1="116.6" y2="116.6" stroke="#fff" stroke-width="0.6"/><line x1="492" x2="494" y1="116.6" y2="116.6" stroke="#fff" stroke-width="0.6"/>
<text x="497.5" y="116.6" font-size="7" fill="#111" dominant-baseline="central">0</text>
<line x1="484.3" x2="486.3" y1="125.5" y2="125.5" stroke="#fff" stroke-width="0.6"/><line x1="492" x2="494" y1="125.5" y2="125.5" stroke="#fff" stroke-width="0.6"/>
<text x="495.2" y="125.5" font-size="7" fill="#111" dominant-baseline="central">−1</text>
<line x1="484.3" x2="486.3" y1="134.8" y2="134.8" stroke="#fff" stroke-width="0.6"/><line x1="492" x2="494" y1="134.8" y2="134.8" stroke="#fff" stroke-width="0.6"/>
<text x="495.2" y="134.8" font-size="7" fill="#111" dominant-baseline="central">−2</text>
<text x="484" y="157.3" font-size="9" fill="#111">Group</text>
<rect x="484" y="161" width="8" height="7.6" fill="#1b9e77"/>
<text x="493.6" y="164.9" font-size="7" fill="#111" dominant-baseline="central">BY2-S1</text>
<rect x="484" y="170" width="8" height="7.6" fill="#d95f02"/>
<text x="493.6" y="173.9" font-size="7" fill="#111" dominant-baseline="central">BY2-S2</text>
<rect x="484" y="179" width="8" height="7.6" fill="#7570b3"/>
<text x="493.6" y="182.9" font-size="7" fill="#111" dominant-baseline="central">BY2-S3</text>
<rect x="484" y="188" width="8" height="7.6" fill="#e91e8c"/>
<text x="493.6" y="191.9" font-size="7" fill="#111" dominant-baseline="central">BY7-S1</text>
<rect x="484" y="197" width="8" height="7.6" fill="#40c8f0"/>
<text x="493.6" y="200.9" font-size="7" fill="#111" dominant-baseline="central">BY7-S2</text>
<rect x="484" y="206" width="8" height="7.6" fill="#000000"/>
<text x="493.6" y="209.9" font-size="7" fill="#111" dominant-baseline="central">BY7-S3</text>
<rect x="63.6" y="675.8" width="75.4" height="8.18" fill="#8cce67"/>
<rect x="138" y="675.8" width="19.6" height="8.18" fill="#b1de71"/>
<rect x="156.6" y="675.8" width="19.6" height="8.18" fill="#acdc6e"/>
<rect x="175.2" y="675.8" width="19.6" height="8.18" fill="#fdb365"/>
<rect x="193.8" y="675.8" width="38.2" height="8.18" fill="#f67a49"/>
<rect x="231" y="675.8" width="19.6" height="8.18" fill="#e6f59d"/>
<rect x="249.6" y="675.8" width="19.6" height="8.18" fill="#fbfdba"/>
<rect x="268.2" y="675.8" width="19.6" height="8.18" fill="#e6f59d"/>
<rect x="286.8" y="675.8" width="19.6" height="8.18" fill="#8cce67"/>
<rect x="305.4" y="675.8" width="19.6" height="8.18" fill="#acdc6e"/>
<rect x="324" y="675.8" width="74.4" height="8.18" fill="#8cce67"/>
<rect x="63.6" y="682.98" width="112.6" height="8.18" fill="#acdc6e"/>
<rect x="175.2" y="682.98" width="38.2" height="8.18" fill="#f67a49"/>
<rect x="212.4" y="682.98" width="19.6" height="8.18" fill="#f16740"/>
<rect x="231" y="682.98" width="167.4" height="8.18" fill="#acdc6e"/>
<rect x="63.6" y="690.15" width="56.8" height="8.18" fill="#ffffbf"/>
<rect x="119.4" y="690.15" width="56.8" height="8.18" fill="#40aa5a"/>
<rect x="175.2" y="690.15" width="56.8" height="8.18" fill="#fff9b5"/>
<rect x="231" y="690.15" width="56.8" height="8.18" fill="#fff6af"/>
<rect x="286.8" y="690.15" width="56.8" height="8.18" fill="#ffffbf"/>
<rect x="342.6" y="690.15" width="55.8" height="8.18" fill="#40aa5a"/>
<rect x="63.6" y="697.33" width="56.8" height="8.18" fill="#feeca0"/>
<rect x="119.4" y="697.33" width="56.8" height="8.18" fill="#6cc064"/>
<rect x="175.2" y="697.33" width="112.6" height="8.18" fill="#fee99b"/>
<rect x="286.8" y="697.33" width="111.6" height="8.18" fill="#6cc064"/>
<rect x="63.6" y="704.5" width="56.8" height="8.18" fill="#80c866"/>
<rect x="119.4" y="704.5" width="56.8" height="8.18" fill="#99d369"/>
<rect x="175.2" y="704.5" width="19.6" height="8.18" fill="#fff6af"/>
<rect x="193.8" y="704.5" width="19.6" height="8.18" fill="#ffffbf"/>
<rect x="212.4" y="704.5" width="19.6" height="8.18" fill="#fff6af"/>
<rect x="231" y="704.5" width="19.6" height="8.18" fill="#f88e52"/>
<rect x="249.6" y="704.5" width="19.6" height="8.18" fill="#f99455"/>
<rect x="268.2" y="704.5" width="19.6" height="8.18" fill="#fba15b"/>
<rect x="286.8" y="704.5" width="56.8" height="8.18" fill="#99d369"/>
<rect x="342.6" y="704.5" width="19.6" height="8.18" fill="#acdc6e"/>
<rect x="361.2" y="704.5" width="19.6" height="8.18" fill="#99d369"/>
<rect x="379.8" y="704.5" width="18.6" height="8.18" fill="#acdc6e"/>
<rect x="63.6" y="711.68" width="56.8" height="8.18" fill="#31a356"/>
<rect x="119.4" y="711.68" width="56.8" height="8.18" fill="#b8e176"/>
<rect x="175.2" y="711.68" width="19.6" height="8.18" fill="#fff6af"/>
<rect x="193.8" y="711.68" width="38.2" height="8.18" fill="#ffffbf"/>
<rect x="231" y="711.68" width="38.2" height="8.18" fill="#fba15b"/>
<rect x="268.2" y="711.68" width="19.6" height="8.18" fill="#fdb365"/>
<rect x="286.8" y="711.68" width="56.8" height="8.18" fill="#b5e074"/>
<rect x="342.6" y="711.68" width="55.8" height="8.18" fill="#bae277"/>
<rect x="63.6" y="718.85" width="19.6" height="8.18" fill="#acdc6e"/>
<rect x="82.2" y="718.85" width="19.6" height="8.18" fill="#6cc064"/>
<rect x="100.8" y="718.85" width="19.6" height="8.18" fill="#5bb760"/>
<rect x="119.4" y="718.85" width="19.6" height="8.18" fill="#ddf190"/>
<rect x="138" y="718.85" width="19.6" height="8.18" fill="#b5e074"/>
<rect x="156.6" y="718.85" width="19.6" height="8.18" fill="#d9ef8b"/>
<rect x="175.2" y="718.85" width="19.6" height="8.18" fill="#ddf190"/>
<rect x="193.8" y="718.85" width="19.6" height="8.18" fill="#c5e67e"/>
<rect x="212.4" y="718.85" width="19.6" height="8.18" fill="#d9ef8b"/>
<rect x="231" y="718.85" width="19.6" height="8.18" fill="#fec776"/>
<rect x="249.6" y="718.85" width="19.6" height="8.18" fill="#f88e52"/>
<rect x="268.2" y="718.85" width="19.6" height="8.18" fill="#ee613d"/>
<rect x="286.8" y="718.85" width="19.6" height="8.18" fill="#80c866"/>
<rect x="305.4" y="718.85" width="19.6" height="8.18" fill="#6cc064"/>
<rect x="324" y="718.85" width="19.6" height="8.18" fill="#73c364"/>
<rect x="342.6" y="718.85" width="19.6" height="8.18" fill="#c5e67e"/>
<rect x="361.2" y="718.85" width="19.6" height="8.18" fill="#ddf190"/>
<rect x="379.8" y="718.85" width="18.6" height="8.18" fill="#cfeb84"/>
<rect x="63.6" y="726.03" width="38.2" height="8.18" fill="#acdc6e"/>
<rect x="100.8" y="726.03" width="19.6" height="8.18" fill="#31a356"/>
<rect x="119.4" y="726.03" width="19.6" height="8.18" fill="#c0e47a"/>
<rect x="138" y="726.03" width="19.6" height="8.18" fill="#99d369"/>
<rect x="156.6" y="726.03" width="19.6" height="8.18" fill="#bae277"/>
<rect x="175.2" y="726.03" width="19.6" height="8.18" fill="#ecf7a5"/>
<rect x="193.8" y="726.03" width="19.6" height="8.18" fill="#fed683"/>
<rect x="212.4" y="726.03" width="19.6" height="8.18" fill="#fee695"/>
<rect x="231" y="726.03" width="19.6" height="8.18" fill="#fec776"/>
<rect x="249.6" y="726.03" width="19.6" height="8.18" fill="#fff6af"/>
<rect x="268.2" y="726.03" width="19.6" height="8.18" fill="#f67a49"/>
<rect x="286.8" y="726.03" width="19.6" height="8.18" fill="#b1de71"/>
<rect x="305.4" y="726.03" width="19.6" height="8.18" fill="#b5e074"/>
<rect x="324" y="726.03" width="19.6" height="8.18" fill="#c5e67e"/>
<rect x="342.6" y="726.03" width="19.6" height="8.18" fill="#80c866"/>
<rect x="361.2" y="726.03" width="19.6" height="8.18" fill="#5bb760"/>
<rect x="379.8" y="726.03" width="18.6" height="8.18" fill="#99d369"/>
<rect x="63.6" y="733.2" width="168.4" height="8.18" fill="#acdc6e"/>
<rect x="231" y="733.2" width="19.6" height="8.18" fill="#fee99b"/>
<rect x="249.6" y="733.2" width="19.6" height="8.18" fill="#fedb87"/>
<rect x="268.2" y="733.2" width="19.6" height="8.18" fill="#a50026"/>
<rect x="286.8" y="733.2" width="111.6" height="8.18" fill="#acdc6e"/>
<rect x="63.6" y="740.38" width="19.6" height="8.18" fill="#6cc064"/>
<rect x="82.2" y="740.38" width="38.2" height="8.18" fill="#99d369"/>
<rect x="119.4" y="740.38" width="19.6" height="8.18" fill="#fee695"/>
<rect x="138" y="740.38" width="38.2" height="8.18" fill="#fed683"/>
<rect x="175.2" y="740.38" width="19.6" height="8.18" fill="#e6f59d"/>
<rect x="193.8" y="740.38" width="19.6" height="8.18" fill="#ffffbf"/>
<rect x="212.4" y="740.38" width="19.6" height="8.18" fill="#fff6af"/>
<rect x="231" y="740.38" width="19.6" height="8.18" fill="#fdb869"/>
<rect x="249.6" y="740.38" width="19.6" height="8.18" fill="#fff9b5"/>
<rect x="268.2" y="740.38" width="19.6" height="8.18" fill="#fee695"/>
<rect x="286.8" y="740.38" width="19.6" height="8.18" fill="#40aa5a"/>
<rect x="305.4" y="740.38" width="19.6" height="8.18" fill="#48ae5b"/>
<rect x="324" y="740.38" width="19.6" height="8.18" fill="#40aa5a"/>
<rect x="342.6" y="740.38" width="19.6" height="8.18" fill="#80c866"/>
<rect x="361.2" y="740.38" width="19.6" height="8.18" fill="#acdc6e"/>
<rect x="379.8" y="740.38" width="18.6" height="8.18" fill="#48ae5b"/>
<rect x="63.6" y="747.55" width="19.6" height="8.18" fill="#acdc6e"/>
<rect x="82.2" y="747.55" width="38.2" height="8.18" fill="#40aa5a"/>
<rect x="119.4" y="747.55" width="19.6" height="8.18" fill="#c0e47a"/>
<rect x="138" y="747.55" width="19.6" height="8.18" fill="#e6f59d"/>
<rect x="156.6" y="747.55" width="19.6" height="8.18" fill="#fedb87"/>
<rect x="175.2" y="747.55" width="19.6" height="8.18" fill="#c5e67e"/>
<rect x="193.8" y="747.55" width="19.6" height="8.18" fill="#fee99b"/>
<rect x="212.4" y="747.55" width="19.6" height="8.18" fill="#f88e52"/>
<rect x="231" y="747.55" width="19.6" height="8.18" fill="#fba15b"/>
<rect x="249.6" y="747.55" width="19.6" height="8.18" fill="#ecf7a5"/>
<rect x="268.2" y="747.55" width="19.6" height="8.18" fill="#fff6af"/>
<rect x="286.8" y="747.55" width="19.6" height="8.18" fill="#31a356"/>
<rect x="305.4" y="747.55" width="38.2" height="8.18" fill="#99d369"/>
<rect x="342.6" y="747.55" width="19.6" height="8.18" fill="#c5e67e"/>
<rect x="361.2" y="747.55" width="19.6" height="8.18" fill="#b1de71"/>
<rect x="379.8" y="747.55" width="18.6" height="8.18" fill="#e6f59d"/>
<rect x="63.6" y="754.73" width="56.8" height="8.18" fill="#99d369"/>
<rect x="119.4" y="754.73" width="19.6" height="8.18" fill="#fdb365"/>
<rect x="138" y="754.73" width="19.6" height="8.18" fill="#fee695"/>
<rect x="156.6" y="754.73" width="19.6" height="8.18" fill="#fba15b"/>
<rect x="175.2" y="754.73" width="168.4" height="8.18" fill="#99d369"/>
<rect x="342.6" y="754.73" width="19.6" height="8.18" fill="#fee99b"/>
<rect x="361.2" y="754.73" width="19.6" height="8.18" fill="#fee695"/>
<rect x="379.8" y="754.73" width="18.6" height="8.18" fill="#fdb869"/>
<rect x="63.6" y="761.91" width="56.8" height="8.18" fill="#99d369"/>
<rect x="119.4" y="761.91" width="56.8" height="8.18" fill="#fec776"/>
<rect x="175.2" y="761.91" width="112.6" height="8.18" fill="#a7d96b"/>
<rect x="286.8" y="761.91" width="56.8" height="8.18" fill="#99d369"/>
<rect x="342.6" y="761.91" width="19.6" height="8.18" fill="#fdb869"/>
<rect x="361.2" y="761.91" width="19.6" height="8.18" fill="#fee695"/>
<rect x="379.8" y="761.91" width="18.6" height="8.18" fill="#fdc272"/>
<rect x="63.6" y="769.08" width="56.8" height="8.18" fill="#99d369"/>
<rect x="119.4" y="769.08" width="19.6" height="8.18" fill="#f67a49"/>
<rect x="138" y="769.08" width="19.6" height="8.18" fill="#f88e52"/>
<rect x="156.6" y="769.08" width="19.6" height="8.18" fill="#fba15b"/>
<rect x="175.2" y="769.08" width="112.6" height="8.18" fill="#a7d96b"/>
<rect x="286.8" y="769.08" width="56.8" height="8.18" fill="#99d369"/>
<rect x="342.6" y="769.08" width="19.6" height="8.18" fill="#ecf7a5"/>
<rect x="361.2" y="769.08" width="19.6" height="8.18" fill="#ffffbf"/>
<rect x="379.8" y="769.08" width="18.6" height="8.18" fill="#fff9b5"/>
<rect x="63.6" y="776.26" width="56.8" height="8.18" fill="#99d369"/>
<rect x="119.4" y="776.26" width="19.6" height="8.18" fill="#f67a49"/>
<rect x="138" y="776.26" width="19.6" height="8.18" fill="#fba15b"/>
<rect x="156.6" y="776.26" width="19.6" height="8.18" fill="#f8874f"/>
<rect x="175.2" y="776.26" width="112.6" height="8.18" fill="#acdc6e"/>
<rect x="286.8" y="776.26" width="56.8" height="8.18" fill="#99d369"/>
<rect x="342.6" y="776.26" width="19.6" height="8.18" fill="#f7fcb5"/>
<rect x="361.2" y="776.26" width="19.6" height="8.18" fill="#ffffbf"/>
<rect x="379.8" y="776.26" width="18.6" height="8.18" fill="#fee99b"/>
<rect x="63.6" y="783.43" width="56.8" height="8.18" fill="#8cce67"/>
<rect x="119.4" y="783.43" width="19.6" height="8.18" fill="#f8874f"/>
<rect x="138" y="783.43" width="19.6" height="8.18" fill="#fba15b"/>
<rect x="156.6" y="783.43" width="19.6" height="8.18" fill="#fec776"/>
<rect x="175.2" y="783.43" width="112.6" height="8.18" fill="#8cce67"/>
<rect x="286.8" y="783.43" width="19.6" height="8.18" fill="#d9ef8b"/>
<rect x="305.4" y="783.43" width="19.6" height="8.18" fill="#bde379"/>
<rect x="324" y="783.43" width="19.6" height="8.18" fill="#c5e67e"/>
<rect x="342.6" y="783.43" width="19.6" height="8.18" fill="#fff6af"/>
<rect x="361.2" y="783.43" width="19.6" height="8.18" fill="#fee695"/>
<rect x="379.8" y="783.43" width="18.6" height="8.18" fill="#fed683"/>
<rect x="63.6" y="790.61" width="56.8" height="8.18" fill="#99d369"/>
<rect x="119.4" y="790.61" width="19.6" height="8.18" fill="#f67a49"/>
<rect x="138" y="790.61" width="19.6" height="8.18" fill="#fba15b"/>
<rect x="156.6" y="790.61" width="19.6" height="8.18" fill="#fdb869"/>
<rect x="175.2" y="790.61" width="56.8" height="8.18" fill="#acdc6e"/>
<rect x="231" y="790.61" width="56.8" height="8.18" fill="#ddf190"/>
<rect x="286.8" y="790.61" width="56.8" height="8.18" fill="#99d369"/>
<rect x="342.6" y="790.61" width="19.6" height="8.18" fill="#e6f59d"/>
<rect x="361.2" y="790.61" width="19.6" height="8.18" fill="#ffffbf"/>
<rect x="379.8" y="790.61" width="18.6" height="8.18" fill="#ecf7a5"/>
<rect x="63.6" y="797.78" width="56.8" height="8.18" fill="#99d369"/>
<rect x="119.4" y="797.78" width="19.6" height="8.18" fill="#f16740"/>
<rect x="138" y="797.78" width="19.6" height="8.18" fill="#fba15b"/>
<rect x="156.6" y="797.78" width="19.6" height="8.18" fill="#f67a49"/>
<rect x="175.2" y="797.78" width="168.4" height="8.18" fill="#acdc6e"/>
<rect x="342.6" y="797.78" width="19.6" height="8.18" fill="#e6f59d"/>
<rect x="361.2" y="797.78" width="19.6" height="8.18" fill="#ffffbf"/>
<rect x="379.8" y="797.78" width="18.6" height="8.18" fill="#e6f59d"/>
<rect x="63.6" y="804.96" width="56.8" height="8.18" fill="#acdc6e"/>
<rect x="119.4" y="804.96" width="19.6" height="8.18" fill="#f67a49"/>
<rect x="138" y="804.96" width="19.6" height="8.18" fill="#fba15b"/>
<rect x="156.6" y="804.96" width="19.6" height="8.18" fill="#f88e52"/>
<rect x="175.2" y="804.96" width="168.4" height="8.18" fill="#acdc6e"/>
<rect x="342.6" y="804.96" width="19.6" height="8.18" fill="#d9ef8b"/>
<rect x="361.2" y="804.96" width="19.6" height="8.18" fill="#ddf190"/>
<rect x="379.8" y="804.96" width="18.6" height="8.18" fill="#d9ef8b"/>
<rect x="63.6" y="812.13" width="56.8" height="8.18" fill="#acdc6e"/>
<rect x="119.4" y="812.13" width="19.6" height="8.18" fill="#f67a49"/>
<rect x="138" y="812.13" width="38.2" height="8.18" fill="#f88e52"/>
<rect x="175.2" y="812.13" width="168.4" height="8.18" fill="#acdc6e"/>
<rect x="342.6" y="812.13" width="55.8" height="8.18" fill="#d9ef8b"/>
<rect x="63.6" y="819.31" width="56.8" height="8.18" fill="#acdc6e"/>
<rect x="119.4" y="819.31" width="19.6" height="8.18" fill="#f57346"/>
<rect x="138" y="819.31" width="19.6" height="8.18" fill="#f99455"/>
<rect x="156.6" y="819.31" width="19.6" height="8.18" fill="#fba15b"/>
<rect x="175.2" y="819.31" width="168.4" height="8.18" fill="#acdc6e"/>
<rect x="342.6" y="819.31" width="55.8" height="8.18" fill="#cfeb84"/>
<rect x="63.6" y="826.48" width="56.8" height="8.18" fill="#acdc6e"/>
<rect x="119.4" y="826.48" width="19.6" height="8.18" fill="#ee613d"/>
<rect x="138" y="826.48" width="19.6" height="8.18" fill="#fdb365"/>
<rect x="156.6" y="826.48" width="19.6" height="8.18" fill="#f88e52"/>
<rect x="175.2" y="826.48" width="168.4" height="8.18" fill="#acdc6e"/>
<rect x="342.6" y="826.48" width="19.6" height="8.18" fill="#c5e67e"/>
<rect x="361.2" y="826.48" width="37.2" height="8.18" fill="#d9ef8b"/>
<rect x="63.6" y="833.66" width="56.8" height="8.18" fill="#acdc6e"/>
<rect x="119.4" y="833.66" width="19.6" height="8.18" fill="#ee613d"/>
<rect x="138" y="833.66" width="19.6" height="8.18" fill="#fdb869"/>
<rect x="156.6" y="833.66" width="19.6" height="8.18" fill="#f67a49"/>
<rect x="175.2" y="833.66" width="168.4" height="8.18" fill="#acdc6e"/>
<rect x="342.6" y="833.66" width="55.8" height="8.18" fill="#d9ef8b"/>
<rect x="63.6" y="840.84" width="56.8" height="8.18" fill="#acdc6e"/>
<rect x="119.4" y="840.84" width="19.6" height="8.18" fill="#f16740"/>
<rect x="138" y="840.84" width="19.6" height="8.18" fill="#fdb869"/>
<rect x="156.6" y="840.84" width="19.6" height="8.18" fill="#f16740"/>
<rect x="175.2" y="840.84" width="168.4" height="8.18" fill="#acdc6e"/>
<rect x="342.6" y="840.84" width="55.8" height="8.18" fill="#c5e67e"/>
<rect x="63.6" y="848.01" width="56.8" height="8.18" fill="#acdc6e"/>
<rect x="119.4" y="848.01" width="19.6" height="8.18" fill="#ee613d"/>
<rect x="138" y="848.01" width="19.6" height="8.18" fill="#fec776"/>
<rect x="156.6" y="848.01" width="19.6" height="8.18" fill="#f57346"/>
<rect x="175.2" y="848.01" width="19.6" height="8.18" fill="#acdc6e"/>
<rect x="193.8" y="848.01" width="19.6" height="8.18" fill="#8cce67"/>
<rect x="212.4" y="848.01" width="19.6" height="8.18" fill="#bde379"/>
<rect x="231" y="848.01" width="19.6" height="8.18" fill="#8cce67"/>
<rect x="249.6" y="848.01" width="19.6" height="8.18" fill="#99d369"/>
<rect x="268.2" y="848.01" width="38.2" height="8.18" fill="#acdc6e"/>
<rect x="305.4" y="848.01" width="19.6" height="8.18" fill="#b1de71"/>
<rect x="324" y="848.01" width="19.6" height="8.18" fill="#80c866"/>
<rect x="342.6" y="848.01" width="19.6" height="8.18" fill="#d9ef8b"/>
<rect x="361.2" y="848.01" width="19.6" height="8.18" fill="#c5e67e"/>
<rect x="379.8" y="848.01" width="18.6" height="8.18" fill="#ecf7a5"/>
<rect x="63.6" y="855.19" width="56.8" height="8.18" fill="#acdc6e"/>
<rect x="119.4" y="855.19" width="19.6" height="8.18" fill="#e85538"/>
<rect x="138" y="855.19" width="19.6" height="8.18" fill="#fba15b"/>
<rect x="156.6" y="855.19" width="19.6" height="8.18" fill="#f67a49"/>
<rect x="175.2" y="855.19" width="168.4" height="8.18" fill="#acdc6e"/>
<rect x="342.6" y="855.19" width="55.8" height="8.18" fill="#b5e074"/>
<rect x="63.6" y="862.36" width="56.8" height="8.18" fill="#acdc6e"/>
<rect x="119.4" y="862.36" width="19.6" height="8.18" fill="#f67a49"/>
<rect x="138" y="862.36" width="38.2" height="8.18" fill="#f88e52"/>
<rect x="175.2" y="862.36" width="168.4" height="8.18" fill="#acdc6e"/>
<rect x="342.6" y="862.36" width="55.8" height="8.18" fill="#b5e074"/>
<rect x="63.6" y="869.54" width="56.8" height="8.18" fill="#acdc6e"/>
<rect x="119.4" y="869.54" width="19.6" height="8.18" fill="#f67a49"/>
<rect x="138" y="869.54" width="19.6" height="8.18" fill="#f88e52"/>
<rect x="156.6" y="869.54" width="19.6" height="8.18" fill="#f67a49"/>
<rect x="175.2" y="869.54" width="168.4" height="8.18" fill="#acdc6e"/>
<rect x="342.6" y="869.54" width="55.8" height="8.18" fill="#b5e074"/>
<rect x="63.6" y="876.71" width="56.8" height="8.18" fill="#fee99b"/>
<rect x="119.4" y="876.71" width="56.8" height="8.18" fill="#80c866"/>
<rect x="175.2" y="876.71" width="56.8" height="8.18" fill="#73c364"/>
<rect x="231" y="876.71" width="112.6" height="8.18" fill="#fee99b"/>
<rect x="342.6" y="876.71" width="55.8" height="8.18" fill="#6cc064"/>
<rect x="63.6" y="883.89" width="19.6" height="8.18" fill="#ffffbf"/>
<rect x="82.2" y="883.89" width="38.2" height="8.18" fill="#fee99b"/>
<rect x="119.4" y="883.89" width="19.6" height="8.18" fill="#6cc064"/>
<rect x="138" y="883.89" width="19.6" height="8.18" fill="#80c866"/>
<rect x="156.6" y="883.89" width="19.6" height="8.18" fill="#8cce67"/>
<rect x="175.2" y="883.89" width="19.6" height="8.18" fill="#99d369"/>
<rect x="193.8" y="883.89" width="38.2" height="8.18" fill="#b5e074"/>
<rect x="231" y="883.89" width="19.6" height="8.18" fill="#8cce67"/>
<rect x="249.6" y="883.89" width="19.6" height="8.18" fill="#73c364"/>
<rect x="268.2" y="883.89" width="19.6" height="8.18" fill="#8cce67"/>
<rect x="286.8" y="883.89" width="19.6" height="8.18" fill="#f67a49"/>
<rect x="305.4" y="883.89" width="19.6" height="8.18" fill="#fdb869"/>
<rect x="324" y="883.89" width="19.6" height="8.18" fill="#f67a49"/>
<rect x="342.6" y="883.89" width="19.6" height="8.18" fill="#acdc6e"/>
<rect x="361.2" y="883.89" width="19.6" height="8.18" fill="#99d369"/>
<rect x="379.8" y="883.89" width="18.6" height="8.18" fill="#acdc6e"/>
<rect x="63.6" y="891.06" width="56.8" height="8.18" fill="#acdc6e"/>
<rect x="119.4" y="891.06" width="56.8" height="8.18" fill="#99d369"/>
<rect x="175.2" y="891.06" width="56.8" height="8.18" fill="#80c866"/>
<rect x="231" y="891.06" width="56.8" height="8.18" fill="#fec776"/>
<rect x="286.8" y="891.06" width="56.8" height="8.18" fill="#8cce67"/>
<rect x="342.6" y="891.06" width="55.8" height="8.18" fill="#fecc7a"/>
<rect x="63.6" y="898.24" width="38.2" height="8.18" fill="#b1de71"/>
<rect x="100.8" y="898.24" width="19.6" height="8.18" fill="#99d369"/>
<rect x="119.4" y="898.24" width="56.8" height="8.18" fill="#5bb760"/>
<rect x="175.2" y="898.24" width="56.8" height="8.18" fill="#b5e074"/>
<rect x="231" y="898.24" width="56.8" height="8.18" fill="#fee695"/>
<rect x="286.8" y="898.24" width="56.8" height="8.18" fill="#80c866"/>
<rect x="342.6" y="898.24" width="55.8" height="8.18" fill="#fec776"/>
<rect x="63.6" y="905.42" width="38.2" height="8.18" fill="#40aa5a"/>
<rect x="100.8" y="905.42" width="19.6" height="8.18" fill="#31a356"/>
<rect x="119.4" y="905.42" width="19.6" height="8.18" fill="#fff9b5"/>
<rect x="138" y="905.42" width="19.6" height="8.18" fill="#c0e47a"/>
<rect x="156.6" y="905.42" width="19.6" height="8.18" fill="#d9ef8b"/>
<rect x="175.2" y="905.42" width="19.6" height="8.18" fill="#c5e67e"/>
<rect x="193.8" y="905.42" width="19.6" height="8.18" fill="#ffffbf"/>
<rect x="212.4" y="905.42" width="19.6" height="8.18" fill="#b5e074"/>
<rect x="231" y="905.42" width="19.6" height="8.18" fill="#f88e52"/>
<rect x="249.6" y="905.42" width="19.6" height="8.18" fill="#ddf190"/>
<rect x="268.2" y="905.42" width="19.6" height="8.18" fill="#f88e52"/>
<rect x="286.8" y="905.42" width="19.6" height="8.18" fill="#b5e074"/>
<rect x="305.4" y="905.42" width="19.6" height="8.18" fill="#80c866"/>
<rect x="324" y="905.42" width="19.6" height="8.18" fill="#73c364"/>
<rect x="342.6" y="905.42" width="19.6" height="8.18" fill="#ffffbf"/>
<rect x="361.2" y="905.42" width="19.6" height="8.18" fill="#acdc6e"/>
<rect x="379.8" y="905.42" width="18.6" height="8.18" fill="#fed683"/>
<rect x="63.6" y="912.59" width="38.2" height="8.18" fill="#acdc6e"/>
<rect x="100.8" y="912.59" width="19.6" height="8.18" fill="#48ae5b"/>
<rect x="119.4" y="912.59" width="56.8" height="8.18" fill="#31a356"/>
<rect x="175.2" y="912.59" width="19.6" height="8.18" fill="#ffffbf"/>
<rect x="193.8" y="912.59" width="19.6" height="8.18" fill="#fee695"/>
<rect x="212.4" y="912.59" width="19.6" height="8.18" fill="#fff9b5"/>
<rect x="231" y="912.59" width="19.6" height="8.18" fill="#fff6af"/>
<rect x="249.6" y="912.59" width="19.6" height="8.18" fill="#fee695"/>
<rect x="268.2" y="912.59" width="19.6" height="8.18" fill="#fff6af"/>
<rect x="286.8" y="912.59" width="19.6" height="8.18" fill="#fec776"/>
<rect x="305.4" y="912.59" width="19.6" height="8.18" fill="#fff6af"/>
<rect x="324" y="912.59" width="19.6" height="8.18" fill="#ffffbf"/>
<rect x="342.6" y="912.59" width="38.2" height="8.18" fill="#d9ef8b"/>
<rect x="379.8" y="912.59" width="18.6" height="8.18" fill="#e6f59d"/>
<rect x="63.6" y="919.77" width="56.8" height="8.18" fill="#48ae5b"/>
<rect x="119.4" y="919.77" width="56.8" height="8.18" fill="#5bb760"/>
<rect x="175.2" y="919.77" width="19.6" height="8.18" fill="#ffffbf"/>
<rect x="193.8" y="919.77" width="19.6" height="8.18" fill="#fee99b"/>
<rect x="212.4" y="919.77" width="75.4" height="8.18" fill="#ffffbf"/>
<rect x="286.8" y="919.77" width="19.6" height="8.18" fill="#fff6af"/>
<rect x="305.4" y="919.77" width="19.6" height="8.18" fill="#ffffbf"/>
<rect x="324" y="919.77" width="19.6" height="8.18" fill="#fff6af"/>
<rect x="342.6" y="919.77" width="55.8" height="8.18" fill="#ffffbf"/>
<rect x="63.6" y="926.94" width="38.2" height="8.18" fill="#73c364"/>
<rect x="100.8" y="926.94" width="19.6" height="8.18" fill="#1e9a51"/>
<rect x="119.4" y="926.94" width="56.8" height="8.18" fill="#80c866"/>
<rect x="175.2" y="926.94" width="19.6" height="8.18" fill="#fee99b"/>
<rect x="193.8" y="926.94" width="19.6" height="8.18" fill="#fedb87"/>
<rect x="212.4" y="926.94" width="19.6" height="8.18" fill="#fee695"/>
<rect x="231" y="926.94" width="19.6" height="8.18" fill="#ffffbf"/>
<rect x="249.6" y="926.94" width="38.2" height="8.18" fill="#fff6af"/>
<rect x="286.8" y="926.94" width="38.2" height="8.18" fill="#ffffbf"/>
<rect x="324" y="926.94" width="19.6" height="8.18" fill="#fff6af"/>
<rect x="342.6" y="926.94" width="19.6" height="8.18" fill="#acdc6e"/>
<rect x="361.2" y="926.94" width="19.6" height="8.18" fill="#d9ef8b"/>
<rect x="379.8" y="926.94" width="18.6" height="8.18" fill="#ddf190"/>
<rect x="63.6" y="934.12" width="19.6" height="8.18" fill="#48ae5b"/>
<rect x="82.2" y="934.12" width="19.6" height="8.18" fill="#73c364"/>
<rect x="100.8" y="934.12" width="19.6" height="8.18" fill="#40aa5a"/>
<rect x="119.4" y="934.12" width="38.2" height="8.18" fill="#b5e074"/>
<rect x="156.6" y="934.12" width="19.6" height="8.18" fill="#8cce67"/>
<rect x="175.2" y="934.12" width="19.6" height="8.18" fill="#ecf7a5"/>
<rect x="193.8" y="934.12" width="19.6" height="8.18" fill="#fec776"/>
<rect x="212.4" y="934.12" width="19.6" height="8.18" fill="#fee99b"/>
<rect x="231" y="934.12" width="19.6" height="8.18" fill="#fdb869"/>
<rect x="249.6" y="934.12" width="19.6" height="8.18" fill="#fff6af"/>
<rect x="268.2" y="934.12" width="19.6" height="8.18" fill="#fee695"/>
<rect x="286.8" y="934.12" width="19.6" height="8.18" fill="#b5e074"/>
<rect x="305.4" y="934.12" width="19.6" height="8.18" fill="#c5e67e"/>
<rect x="324" y="934.12" width="19.6" height="8.18" fill="#b5e074"/>
<rect x="342.6" y="934.12" width="19.6" height="8.18" fill="#ffffbf"/>
<rect x="361.2" y="934.12" width="19.6" height="8.18" fill="#fff9b5"/>
<rect x="379.8" y="934.12" width="18.6" height="8.18" fill="#fee99b"/>
<rect x="63.6" y="941.29" width="38.2" height="8.18" fill="#b5e074"/>
<rect x="100.8" y="941.29" width="56.8" height="8.18" fill="#5bb760"/>
<rect x="156.6" y="941.29" width="19.6" height="8.18" fill="#40aa5a"/>
<rect x="175.2" y="941.29" width="19.6" height="8.18" fill="#fff9b5"/>
<rect x="193.8" y="941.29" width="19.6" height="8.18" fill="#ffffbf"/>
<rect x="212.4" y="941.29" width="19.6" height="8.18" fill="#fee99b"/>
<rect x="231" y="941.29" width="19.6" height="8.18" fill="#fdb869"/>
<rect x="249.6" y="941.29" width="19.6" height="8.18" fill="#fee99b"/>
<rect x="268.2" y="941.29" width="19.6" height="8.18" fill="#fdc272"/>
<rect x="286.8" y="941.29" width="19.6" height="8.18" fill="#b5e074"/>
<rect x="305.4" y="941.29" width="38.2" height="8.18" fill="#d9ef8b"/>
<rect x="342.6" y="941.29" width="19.6" height="8.18" fill="#ddf190"/>
<rect x="361.2" y="941.29" width="19.6" height="8.18" fill="#b5e074"/>
<rect x="379.8" y="941.29" width="18.6" height="8.18" fill="#ddf190"/>
<rect x="63.6" y="948.47" width="56.8" height="8.18" fill="#73c364"/>
<rect x="119.4" y="948.47" width="56.8" height="8.18" fill="#6cc064"/>
<rect x="175.2" y="948.47" width="19.6" height="8.18" fill="#b5e074"/>
<rect x="193.8" y="948.47" width="19.6" height="8.18" fill="#bde379"/>
<rect x="212.4" y="948.47" width="19.6" height="8.18" fill="#c5e67e"/>
<rect x="231" y="948.47" width="19.6" height="8.18" fill="#fdb869"/>
<rect x="249.6" y="948.47" width="19.6" height="8.18" fill="#fee99b"/>
<rect x="268.2" y="948.47" width="38.2" height="8.18" fill="#fff9b5"/>
<rect x="305.4" y="948.47" width="19.6" height="8.18" fill="#fed683"/>
<rect x="324" y="948.47" width="19.6" height="8.18" fill="#fff9b5"/>
<rect x="342.6" y="948.47" width="19.6" height="8.18" fill="#fed683"/>
<rect x="361.2" y="948.47" width="19.6" height="8.18" fill="#ffffbf"/>
<rect x="379.8" y="948.47" width="18.6" height="8.18" fill="#fee99b"/>
<rect x="63.6" y="955.64" width="19.6" height="8.18" fill="#40aa5a"/>
<rect x="82.2" y="955.64" width="19.6" height="8.18" fill="#48ae5b"/>
<rect x="100.8" y="955.64" width="19.6" height="8.18" fill="#046f3b"/>
<rect x="119.4" y="955.64" width="19.6" height="8.18" fill="#b5e074"/>
<rect x="138" y="955.64" width="38.2" height="8.18" fill="#acdc6e"/>
<rect x="175.2" y="955.64" width="38.2" height="8.18" fill="#d9ef8b"/>
<rect x="212.4" y="955.64" width="19.6" height="8.18" fill="#ddf190"/>
<rect x="231" y="955.64" width="19.6" height="8.18" fill="#fee99b"/>
<rect x="249.6" y="955.64" width="56.8" height="8.18" fill="#fff6af"/>
<rect x="305.4" y="955.64" width="38.2" height="8.18" fill="#ffffbf"/>
<rect x="342.6" y="955.64" width="19.6" height="8.18" fill="#fff9b5"/>
<rect x="361.2" y="955.64" width="19.6" height="8.18" fill="#ffffbf"/>
<rect x="379.8" y="955.64" width="18.6" height="8.18" fill="#fff9b5"/>
<rect x="63.6" y="962.82" width="19.6" height="8.18" fill="#48ae5b"/>
<rect x="82.2" y="962.82" width="19.6" height="8.18" fill="#5bb760"/>
<rect x="100.8" y="962.82" width="19.6" height="8.18" fill="#31a356"/>
<rect x="119.4" y="962.82" width="19.6" height="8.18" fill="#ddf190"/>
<rect x="138" y="962.82" width="19.6" height="8.18" fill="#ffffbf"/>
<rect x="156.6" y="962.82" width="19.6" height="8.18" fill="#ddf190"/>
<rect x="175.2" y="962.82" width="19.6" height="8.18" fill="#b5e074"/>
<rect x="193.8" y="962.82" width="19.6" height="8.18" fill="#bde379"/>
<rect x="212.4" y="962.82" width="19.6" height="8.18" fill="#c5e67e"/>
<rect x="231" y="962.82" width="19.6" height="8.18" fill="#73c364"/>
<rect x="249.6" y="962.82" width="19.6" height="8.18" fill="#80c866"/>
<rect x="268.2" y="962.82" width="19.6" height="8.18" fill="#b5e074"/>
<rect x="286.8" y="962.82" width="19.6" height="8.18" fill="#fedb87"/>
<rect x="305.4" y="962.82" width="19.6" height="8.18" fill="#f67a49"/>
<rect x="324" y="962.82" width="19.6" height="8.18" fill="#f16740"/>
<rect x="342.6" y="962.82" width="38.2" height="8.18" fill="#ddf190"/>
<rect x="379.8" y="962.82" width="18.6" height="8.18" fill="#ffffbf"/>
<rect x="63.6" y="969.99" width="56.8" height="8.18" fill="#73c364"/>
<rect x="119.4" y="969.99" width="56.8" height="8.18" fill="#80c866"/>
<rect x="175.2" y="969.99" width="19.6" height="8.18" fill="#fff9b5"/>
<rect x="193.8" y="969.99" width="38.2" height="8.18" fill="#fee99b"/>
<rect x="231" y="969.99" width="56.8" height="8.18" fill="#5bb760"/>
<rect x="286.8" y="969.99" width="38.2" height="8.18" fill="#fed683"/>
<rect x="324" y="969.99" width="19.6" height="8.18" fill="#fec776"/>
<rect x="342.6" y="969.99" width="38.2" height="8.18" fill="#fff9b5"/>
<rect x="379.8" y="969.99" width="18.6" height="8.18" fill="#fee695"/>
<rect x="63.6" y="977.17" width="19.6" height="8.18" fill="#99d369"/>
<rect x="82.2" y="977.17" width="19.6" height="8.18" fill="#d9ef8b"/>
<rect x="100.8" y="977.17" width="19.6" height="8.18" fill="#80c866"/>
<rect x="119.4" y="977.17" width="19.6" height="8.18" fill="#ffffbf"/>
<rect x="138" y="977.17" width="19.6" height="8.18" fill="#6cc064"/>
<rect x="156.6" y="977.17" width="38.2" height="8.18" fill="#99d369"/>
<rect x="193.8" y="977.17" width="19.6" height="8.18" fill="#73c364"/>
<rect x="212.4" y="977.17" width="19.6" height="8.18" fill="#80c866"/>
<rect x="231" y="977.17" width="38.2" height="8.18" fill="#ffffbf"/>
<rect x="268.2" y="977.17" width="19.6" height="8.18" fill="#73c364"/>
<rect x="286.8" y="977.17" width="19.6" height="8.18" fill="#ffffbf"/>
<rect x="305.4" y="977.17" width="19.6" height="8.18" fill="#fed683"/>
<rect x="324" y="977.17" width="19.6" height="8.18" fill="#d73027"/>
<rect x="342.6" y="977.17" width="19.6" height="8.18" fill="#99d369"/>
<rect x="361.2" y="977.17" width="19.6" height="8.18" fill="#ddf190"/>
<rect x="379.8" y="977.17" width="18.6" height="8.18" fill="#fed683"/>
<rect x="63.6" y="984.35" width="38.2" height="8.18" fill="#40aa5a"/>
<rect x="100.8" y="984.35" width="19.6" height="8.18" fill="#1e9a51"/>
<rect x="119.4" y="984.35" width="19.6" height="8.18" fill="#d9ef8b"/>
<rect x="138" y="984.35" width="38.2" height="8.18" fill="#acdc6e"/>
<rect x="175.2" y="984.35" width="19.6" height="8.18" fill="#b5e074"/>
<rect x="193.8" y="984.35" width="19.6" height="8.18" fill="#acdc6e"/>
<rect x="212.4" y="984.35" width="19.6" height="8.18" fill="#b5e074"/>
<rect x="231" y="984.35" width="38.2" height="8.18" fill="#e6f59d"/>
<rect x="268.2" y="984.35" width="19.6" height="8.18" fill="#ddf190"/>
<rect x="286.8" y="984.35" width="19.6" height="8.18" fill="#ffffbf"/>
<rect x="305.4" y="984.35" width="38.2" height="8.18" fill="#fff9b5"/>
<rect x="342.6" y="984.35" width="19.6" height="8.18" fill="#fee695"/>
<rect x="361.2" y="984.35" width="19.6" height="8.18" fill="#fdb869"/>
<rect x="379.8" y="984.35" width="18.6" height="8.18" fill="#fba15b"/>
<rect x="63.6" y="991.52" width="38.2" height="8.18" fill="#5bb760"/>
<rect x="100.8" y="991.52" width="19.6" height="8.18" fill="#31a356"/>
<rect x="119.4" y="991.52" width="19.6" height="8.18" fill="#b5e074"/>
<rect x="138" y="991.52" width="38.2" height="8.18" fill="#80c866"/>
<rect x="175.2" y="991.52" width="19.6" height="8.18" fill="#8cce67"/>
<rect x="193.8" y="991.52" width="19.6" height="8.18" fill="#80c866"/>
<rect x="212.4" y="991.52" width="19.6" height="8.18" fill="#acdc6e"/>
<rect x="231" y="991.52" width="19.6" height="8.18" fill="#fff9b5"/>
<rect x="249.6" y="991.52" width="38.2" height="8.18" fill="#ffffbf"/>
<rect x="286.8" y="991.52" width="19.6" height="8.18" fill="#fff9b5"/>
<rect x="305.4" y="991.52" width="19.6" height="8.18" fill="#ddf190"/>
<rect x="324" y="991.52" width="19.6" height="8.18" fill="#fff9b5"/>
<rect x="342.6" y="991.52" width="19.6" height="8.18" fill="#fee695"/>
<rect x="361.2" y="991.52" width="19.6" height="8.18" fill="#fec776"/>
<rect x="379.8" y="991.52" width="18.6" height="8.18" fill="#f88e52"/>
<rect x="63.6" y="998.7" width="38.2" height="8.18" fill="#5bb760"/>
<rect x="100.8" y="998.7" width="19.6" height="8.18" fill="#31a356"/>
<rect x="119.4" y="998.7" width="19.6" height="8.18" fill="#b5e074"/>
<rect x="138" y="998.7" width="38.2" height="8.18" fill="#acdc6e"/>
<rect x="175.2" y="998.7" width="19.6" height="8.18" fill="#99d369"/>
<rect x="193.8" y="998.7" width="38.2" height="8.18" fill="#73c364"/>
<rect x="231" y="998.7" width="19.6" height="8.18" fill="#e6f59d"/>
<rect x="249.6" y="998.7" width="19.6" height="8.18" fill="#b5e074"/>
<rect x="268.2" y="998.7" width="19.6" height="8.18" fill="#ffffbf"/>
<rect x="286.8" y="998.7" width="19.6" height="8.18" fill="#fec776"/>
<rect x="305.4" y="998.7" width="19.6" height="8.18" fill="#fff9b5"/>
<rect x="324" y="998.7" width="19.6" height="8.18" fill="#fedb87"/>
<rect x="342.6" y="998.7" width="19.6" height="8.18" fill="#ffffbf"/>
<rect x="361.2" y="998.7" width="19.6" height="8.18" fill="#fec776"/>
<rect x="379.8" y="998.7" width="18.6" height="8.18" fill="#fba15b"/>
<rect x="63.6" y="1005.87" width="19.6" height="8.18" fill="#31a356"/>
<rect x="82.2" y="1005.87" width="19.6" height="8.18" fill="#40aa5a"/>
<rect x="100.8" y="1005.87" width="19.6" height="8.18" fill="#31a356"/>
<rect x="119.4" y="1005.87" width="19.6" height="8.18" fill="#fee99b"/>
<rect x="138" y="1005.87" width="19.6" height="8.18" fill="#fff9b5"/>
<rect x="156.6" y="1005.87" width="19.6" height="8.18" fill="#e6f59d"/>
<rect x="175.2" y="1005.87" width="19.6" height="8.18" fill="#73c364"/>
<rect x="193.8" y="1005.87" width="19.6" height="8.18" fill="#acdc6e"/>
<rect x="212.4" y="1005.87" width="19.6" height="8.18" fill="#b5e074"/>
<rect x="231" y="1005.87" width="19.6" height="8.18" fill="#ddf190"/>
<rect x="249.6" y="1005.87" width="19.6" height="8.18" fill="#c5e67e"/>
<rect x="268.2" y="1005.87" width="19.6" height="8.18" fill="#d9ef8b"/>
<rect x="286.8" y="1005.87" width="19.6" height="8.18" fill="#ecf7a5"/>
<rect x="305.4" y="1005.87" width="19.6" height="8.18" fill="#e6f59d"/>
<rect x="324" y="1005.87" width="19.6" height="8.18" fill="#ddf190"/>
<rect x="342.6" y="1005.87" width="38.2" height="8.18" fill="#fec776"/>
<rect x="379.8" y="1005.87" width="18.6" height="8.18" fill="#fdb869"/>
<rect x="63.6" y="1013.05" width="19.6" height="8.18" fill="#1e9a51"/>
<rect x="82.2" y="1013.05" width="19.6" height="8.18" fill="#48ae5b"/>
<rect x="100.8" y="1013.05" width="19.6" height="8.18" fill="#046f3b"/>
<rect x="119.4" y="1013.05" width="19.6" height="8.18" fill="#e6f59d"/>
<rect x="138" y="1013.05" width="19.6" height="8.18" fill="#ddf190"/>
<rect x="156.6" y="1013.05" width="19.6" height="8.18" fill="#ffffbf"/>
<rect x="175.2" y="1013.05" width="19.6" height="8.18" fill="#c5e67e"/>
<rect x="193.8" y="1013.05" width="19.6" height="8.18" fill="#d9ef8b"/>
<rect x="212.4" y="1013.05" width="19.6" height="8.18" fill="#b5e074"/>
<rect x="231" y="1013.05" width="19.6" height="8.18" fill="#ffffbf"/>
<rect x="249.6" y="1013.05" width="38.2" height="8.18" fill="#d9ef8b"/>
<rect x="286.8" y="1013.05" width="19.6" height="8.18" fill="#fee99b"/>
<rect x="305.4" y="1013.05" width="19.6" height="8.18" fill="#ddf190"/>
<rect x="324" y="1013.05" width="19.6" height="8.18" fill="#c5e67e"/>
<rect x="342.6" y="1013.05" width="19.6" height="8.18" fill="#e6f59d"/>
<rect x="361.2" y="1013.05" width="19.6" height="8.18" fill="#fedb87"/>
<rect x="379.8" y="1013.05" width="18.6" height="8.18" fill="#fdc272"/>
<rect x="63.6" y="1020.22" width="38.2" height="8.18" fill="#73c364"/>
<rect x="100.8" y="1020.22" width="19.6" height="8.18" fill="#5bb760"/>
<rect x="119.4" y="1020.22" width="19.6" height="8.18" fill="#d9ef8b"/>
<rect x="138" y="1020.22" width="19.6" height="8.18" fill="#c5e67e"/>
<rect x="156.6" y="1020.22" width="19.6" height="8.18" fill="#ecf7a5"/>
<rect x="175.2" y="1020.22" width="56.8" height="8.18" fill="#5bb760"/>
<rect x="231" y="1020.22" width="19.6" height="8.18" fill="#d9ef8b"/>
<rect x="249.6" y="1020.22" width="19.6" height="8.18" fill="#c5e67e"/>
<rect x="268.2" y="1020.22" width="19.6" height="8.18" fill="#b5e074"/>
<rect x="286.8" y="1020.22" width="38.2" height="8.18" fill="#fff9b5"/>
<rect x="324" y="1020.22" width="19.6" height="8.18" fill="#ffffbf"/>
<rect x="342.6" y="1020.22" width="55.8" height="8.18" fill="#fdb869"/>
<rect x="63.6" y="1027.4" width="38.2" height="8.18" fill="#8cce67"/>
<rect x="100.8" y="1027.4" width="19.6" height="8.18" fill="#48ae5b"/>
<rect x="119.4" y="1027.4" width="19.6" height="8.18" fill="#e6f59d"/>
<rect x="138" y="1027.4" width="19.6" height="8.18" fill="#d9ef8b"/>
<rect x="156.6" y="1027.4" width="19.6" height="8.18" fill="#ddf190"/>
<rect x="175.2" y="1027.4" width="19.6" height="8.18" fill="#80c866"/>
<rect x="193.8" y="1027.4" width="19.6" height="8.18" fill="#acdc6e"/>
<rect x="212.4" y="1027.4" width="19.6" height="8.18" fill="#5bb760"/>
<rect x="231" y="1027.4" width="19.6" height="8.18" fill="#99d369"/>
<rect x="249.6" y="1027.4" width="19.6" height="8.18" fill="#acdc6e"/>
<rect x="268.2" y="1027.4" width="19.6" height="8.18" fill="#99d369"/>
<rect x="286.8" y="1027.4" width="19.6" height="8.18" fill="#e6f59d"/>
<rect x="305.4" y="1027.4" width="38.2" height="8.18" fill="#f88e52"/>
<rect x="342.6" y="1027.4" width="19.6" height="8.18" fill="#fdb869"/>
<rect x="361.2" y="1027.4" width="19.6" height="8.18" fill="#e6f59d"/>
<rect x="379.8" y="1027.4" width="18.6" height="8.18" fill="#fdc272"/>
<rect x="63.6" y="1034.57" width="38.2" height="8.18" fill="#73c364"/>
<rect x="100.8" y="1034.57" width="19.6" height="8.18" fill="#48ae5b"/>
<rect x="119.4" y="1034.57" width="19.6" height="8.18" fill="#fee99b"/>
<rect x="138" y="1034.57" width="19.6" height="8.18" fill="#ecf7a5"/>
<rect x="156.6" y="1034.57" width="19.6" height="8.18" fill="#fff9b5"/>
<rect x="175.2" y="1034.57" width="19.6" height="8.18" fill="#73c364"/>
<rect x="193.8" y="1034.57" width="19.6" height="8.18" fill="#80c866"/>
<rect x="212.4" y="1034.57" width="19.6" height="8.18" fill="#5bb760"/>
<rect x="231" y="1034.57" width="19.6" height="8.18" fill="#80c866"/>
<rect x="249.6" y="1034.57" width="19.6" height="8.18" fill="#5bb760"/>
<rect x="268.2" y="1034.57" width="19.6" height="8.18" fill="#73c364"/>
<rect x="286.8" y="1034.57" width="19.6" height="8.18" fill="#ffffbf"/>
<rect x="305.4" y="1034.57" width="19.6" height="8.18" fill="#fedb87"/>
<rect x="324" y="1034.57" width="19.6" height="8.18" fill="#fee99b"/>
<rect x="342.6" y="1034.57" width="19.6" height="8.18" fill="#fedb87"/>
<rect x="361.2" y="1034.57" width="19.6" height="8.18" fill="#fdc272"/>
<rect x="379.8" y="1034.57" width="18.6" height="8.18" fill="#fed683"/>
<rect x="63.6" y="1041.75" width="19.6" height="8.18" fill="#48ae5b"/>
<rect x="82.2" y="1041.75" width="19.6" height="8.18" fill="#80c866"/>
<rect x="100.8" y="1041.75" width="19.6" height="8.18" fill="#31a356"/>
<rect x="119.4" y="1041.75" width="19.6" height="8.18" fill="#fee99b"/>
<rect x="138" y="1041.75" width="19.6" height="8.18" fill="#fff9b5"/>
<rect x="156.6" y="1041.75" width="19.6" height="8.18" fill="#ecf7a5"/>
<rect x="175.2" y="1041.75" width="19.6" height="8.18" fill="#73c364"/>
<rect x="193.8" y="1041.75" width="19.6" height="8.18" fill="#80c866"/>
<rect x="212.4" y="1041.75" width="19.6" height="8.18" fill="#6cc064"/>
<rect x="231" y="1041.75" width="19.6" height="8.18" fill="#b5e074"/>
<rect x="249.6" y="1041.75" width="19.6" height="8.18" fill="#d9ef8b"/>
<rect x="268.2" y="1041.75" width="19.6" height="8.18" fill="#b5e074"/>
<rect x="286.8" y="1041.75" width="19.6" height="8.18" fill="#ffffbf"/>
<rect x="305.4" y="1041.75" width="19.6" height="8.18" fill="#fee99b"/>
<rect x="324" y="1041.75" width="19.6" height="8.18" fill="#ffffbf"/>
<rect x="342.6" y="1041.75" width="19.6" height="8.18" fill="#fee695"/>
<rect x="361.2" y="1041.75" width="19.6" height="8.18" fill="#fdb869"/>
<rect x="379.8" y="1041.75" width="18.6" height="8.18" fill="#fee695"/>
<rect x="63.6" y="1048.92" width="19.6" height="7.18" fill="#99d369"/>
<rect x="82.2" y="1048.92" width="19.6" height="7.18" fill="#ffffbf"/>
<rect x="100.8" y="1048.92" width="19.6" height="7.18" fill="#48ae5b"/>
<rect x="119.4" y="1048.92" width="19.6" height="7.18" fill="#80c866"/>
<rect x="138" y="1048.92" width="19.6" height="7.18" fill="#b5e074"/>
<rect x="156.6" y="1048.92" width="19.6" height="7.18" fill="#80c866"/>
<rect x="175.2" y="1048.92" width="19.6" height="7.18" fill="#99d369"/>
<rect x="193.8" y="1048.92" width="19.6" height="7.18" fill="#fff9b5"/>
<rect x="212.4" y="1048.92" width="19.6" height="7.18" fill="#c5e67e"/>
<rect x="231" y="1048.92" width="19.6" height="7.18" fill="#fdb365"/>
<rect x="249.6" y="1048.92" width="19.6" height="7.18" fill="#5bb760"/>
<rect x="268.2" y="1048.92" width="19.6" height="7.18" fill="#acdc6e"/>
<rect x="286.8" y="1048.92" width="19.6" height="7.18" fill="#fff9b5"/>
<rect x="305.4" y="1048.92" width="19.6" height="7.18" fill="#ddf190"/>
<rect x="324" y="1048.92" width="19.6" height="7.18" fill="#fff9b5"/>
<rect x="342.6" y="1048.92" width="38.2" height="7.18" fill="#fee695"/>
<rect x="379.8" y="1048.92" width="18.6" height="7.18" fill="#f67a49"/>
<rect x="63.6" y="663.7" width="56.8" height="10.1" fill="#1b9e77"/>
<rect x="119.4" y="663.7" width="56.8" height="10.1" fill="#000000"/>
<rect x="175.2" y="663.7" width="56.8" height="10.1" fill="#d95f02"/>
<rect x="231" y="663.7" width="56.8" height="10.1" fill="#7570b3"/>
<rect x="286.8" y="663.7" width="56.8" height="10.1" fill="#e91e8c"/>
<rect x="342.6" y="663.7" width="55.8" height="10.1" fill="#40c8f0"/>
<path d="M72.9 661.6L72.9 658.3 M91.5 661.6L91.5 658.3 M72.9 658.3L91.5 658.3 M82.2 658.3L82.2 657.5 M110.1 661.6L110.1 657.5 M82.2 657.5L110.1 657.5 M147.3 661.6L147.3 658.3 M165.9 661.6L165.9 658.3 M147.3 658.3L165.9 658.3 M128.7 661.6L128.7 657.5 M156.6 658.3L156.6 657.5 M128.7 657.5L156.6 657.5 M96.15 657.5L96.15 643.6 M142.65 657.5L142.65 643.6 M96.15 643.6L142.65 643.6 M203.1 661.6L203.1 658.3 M221.7 661.6L221.7 658.3 M203.1 658.3L221.7 658.3 M184.5 661.6L184.5 657 M212.4 658.3L212.4 657 M184.5 657L212.4 657 M258.9 661.6L258.9 657.8 M277.5 661.6L277.5 657.8 M258.9 657.8L277.5 657.8 M240.3 661.6L240.3 656.6 M268.2 657.8L268.2 656.6 M240.3 656.6L268.2 656.6 M198.45 657L198.45 652.4 M254.25 656.6L254.25 652.4 M198.45 652.4L254.25 652.4 M314.7 661.6L314.7 658.3 M333.3 661.6L333.3 658.3 M314.7 658.3L333.3 658.3 M296.1 661.6L296.1 657.3 M324 658.3L324 657.3 M296.1 657.3L324 657.3 M351.9 661.6L351.9 659 M370.5 661.6L370.5 659 M351.9 659L370.5 659 M361.2 659L361.2 658.3 M389.1 661.6L389.1 658.3 M361.2 658.3L389.1 658.3 M310.05 657.3L310.05 650.7 M375.15 658.3L375.15 650.7 M310.05 650.7L375.15 650.7 M226.35 652.4L226.35 647.5 M342.6 650.7L342.6 647.5 M226.35 647.5L342.6 647.5 M119.4 643.6L119.4 642.2 M284.48 647.5L284.48 642.2 M119.4 642.2L284.48 642.2" stroke="#4a4a4a" stroke-width="0.85" fill="none"/>
<path d="M61.7 679.39L57.77 679.39 M61.7 686.56L57.77 686.56 M57.77 679.39L57.77 686.56 M61.7 693.74L54.79 693.74 M61.7 700.91L54.79 700.91 M54.79 693.74L54.79 700.91 M57.77 682.98L50.69 682.98 M54.79 697.33L50.69 697.33 M50.69 682.98L50.69 697.33 M61.7 708.09L58.52 708.09 M61.7 715.27L58.52 715.27 M58.52 708.09L58.52 715.27 M58.52 711.68L56.68 711.68 M61.7 722.44L56.68 722.44 M56.68 711.68L56.68 722.44 M56.68 717.06L54.91 717.06 M61.7 729.62L54.91 729.62 M54.91 717.06L54.91 729.62 M54.91 723.34L54.07 723.34 M61.7 736.79L54.07 736.79 M54.07 723.34L54.07 736.79 M61.7 743.97L54.54 743.97 M61.7 751.14L54.54 751.14 M54.54 743.97L54.54 751.14 M54.07 730.06L50.63 730.06 M54.54 747.55L50.63 747.55 M50.63 730.06L50.63 747.55 M50.69 690.15L46.8 690.15 M50.63 738.81L46.8 738.81 M46.8 690.15L46.8 738.81 M61.7 758.32L59.71 758.32 M61.7 765.49L59.71 765.49 M59.71 758.32L59.71 765.49 M61.7 772.67L60.68 772.67 M61.7 779.84L60.68 779.84 M60.68 772.67L60.68 779.84 M60.68 776.26L58.58 776.26 M61.7 787.02L58.58 787.02 M58.58 776.26L58.58 787.02 M59.71 761.91L57.48 761.91 M58.58 781.64L57.48 781.64 M57.48 761.91L57.48 781.64 M61.7 808.55L61.3 808.55 M61.7 815.72L61.3 815.72 M61.3 808.55L61.3 815.72 M61.3 812.13L60.99 812.13 M61.7 822.9L60.99 822.9 M60.99 812.13L60.99 822.9 M61.7 830.07L61.05 830.07 M61.7 837.25L61.05 837.25 M61.05 830.07L61.05 837.25 M61.05 833.66L60.64 833.66 M61.7 844.42L60.64 844.42 M60.64 833.66L60.64 844.42 M60.99 817.52L60.19 817.52 M60.64 839.04L60.19 839.04 M60.19 817.52L60.19 839.04 M60.19 828.28L59.54 828.28 M61.7 851.6L59.54 851.6 M59.54 828.28L59.54 851.6 M61.7 801.37L59.27 801.37 M59.54 839.94L59.27 839.94 M59.27 801.37L59.27 839.94 M61.7 865.95L61.32 865.95 M61.7 873.13L61.32 873.13 M61.32 865.95L61.32 873.13 M61.7 858.77L60.77 858.77 M61.32 869.54L60.77 869.54 M60.77 858.77L60.77 869.54 M59.27 820.65L58.73 820.65 M60.77 864.16L58.73 864.16 M58.73 820.65L58.73 864.16 M61.7 794.2L57.56 794.2 M58.73 842.41L57.56 842.41 M57.56 794.2L57.56 842.41 M57.48 771.77L54.14 771.77 M57.56 818.3L54.14 818.3 M54.14 771.77L54.14 818.3 M61.7 880.3L53 880.3 M61.7 887.48L53 887.48 M53 880.3L53 887.48 M54.14 795.04L44.46 795.04 M53 883.89L44.46 883.89 M44.46 795.04L44.46 883.89 M61.7 894.65L58.39 894.65 M61.7 901.83L58.39 901.83 M58.39 894.65L58.39 901.83 M58.39 898.24L52.46 898.24 M61.7 909L52.46 909 M52.46 898.24L52.46 909 M61.7 923.35L57.83 923.35 M61.7 930.53L57.83 930.53 M57.83 923.35L57.83 930.53 M61.7 916.18L57.69 916.18 M57.83 926.94L57.69 926.94 M57.69 916.18L57.69 926.94 M61.7 937.7L55.91 937.7 M61.7 944.88L55.91 944.88 M55.91 937.7L55.91 944.88 M61.7 952.06L57.08 952.06 M61.7 959.23L57.08 959.23 M57.08 952.06L57.08 959.23 M55.91 941.29L54.18 941.29 M57.08 955.64L54.18 955.64 M54.18 941.29L54.18 955.64 M57.69 921.56L53.89 921.56 M54.18 948.47L53.89 948.47 M53.89 921.56L53.89 948.47 M52.46 903.62L49.78 903.62 M53.89 935.01L49.78 935.01 M49.78 903.62L49.78 935.01 M61.7 966.41L53.92 966.41 M61.7 973.58L53.92 973.58 M53.92 966.41L53.92 973.58 M53.92 969.99L50.76 969.99 M61.7 980.76L50.76 980.76 M50.76 969.99L50.76 980.76 M61.7 987.93L58.63 987.93 M61.7 995.11L58.63 995.11 M58.63 987.93L58.63 995.11 M58.63 991.52L57.79 991.52 M61.7 1002.28L57.79 1002.28 M57.79 991.52L57.79 1002.28 M61.7 1009.46L56.73 1009.46 M61.7 1016.63L56.73 1016.63 M56.73 1009.46L56.73 1016.63 M57.79 996.9L55.07 996.9 M56.73 1013.05L55.07 1013.05 M55.07 996.9L55.07 1013.05 M61.7 1023.81L55.64 1023.81 M61.7 1030.99L55.64 1030.99 M55.64 1023.81L55.64 1030.99 M61.7 1038.16L57.87 1038.16 M61.7 1045.34L57.87 1045.34 M57.87 1038.16L57.87 1045.34 M55.64 1027.4L55.48 1027.4 M57.87 1041.75L55.48 1041.75 M55.48 1027.4L55.48 1041.75 M55.07 1004.97L52.22 1004.97 M55.48 1034.57L52.22 1034.57 M52.22 1004.97L52.22 1034.57 M52.22 1019.77L51.23 1019.77 M61.7 1052.51L51.23 1052.51 M51.23 1019.77L51.23 1052.51 M50.76 975.38L50.18 975.38 M51.23 1036.14L50.18 1036.14 M50.18 975.38L50.18 1036.14 M49.78 919.32L46.08 919.32 M50.18 1005.76L46.08 1005.76 M46.08 919.32L46.08 1005.76 M44.46 839.46L43.65 839.46 M46.08 962.54L43.65 962.54 M43.65 839.46L43.65 962.54 M46.8 714.48L42.3 714.48 M43.65 901L42.3 901 M42.3 714.48L42.3 901" stroke="#4a4a4a" stroke-width="0.7" fill="none"/>
<text x="401.7" y="679.89" font-size="5.25" fill="#111" dominant-baseline="central">Naringenin</text>
<text x="401.7" y="687.06" font-size="5.25" fill="#111" dominant-baseline="central">Petunidin-3-O-sophoroside</text>
<text x="401.7" y="694.24" font-size="5.25" fill="#111" dominant-baseline="central">Cyanidin-3-O-rutinoside-5-O-glucoside</text>
<text x="401.7" y="701.41" font-size="5.25" fill="#111" dominant-baseline="central">Petunidin-3-O-(6-O-malonyl-beta-D-glucoside)</text>
<text x="401.7" y="708.59" font-size="5.25" fill="#111" dominant-baseline="central">Delphinidin-3-O-sophoroside</text>
<text x="401.7" y="715.77" font-size="5.25" fill="#111" dominant-baseline="central">Delphinidin-3-O-galactoside</text>
<text x="401.7" y="722.94" font-size="5.25" fill="#111" dominant-baseline="central">Afzelin</text>
<text x="401.7" y="730.12" font-size="5.25" fill="#111" dominant-baseline="central">Quercetin-3-O-glucoside</text>
<text x="401.7" y="737.29" font-size="5.25" fill="#111" dominant-baseline="central">Peonidin-3-O-arabinoside</text>
<text x="401.7" y="744.47" font-size="5.25" fill="#111" dominant-baseline="central">Petunidin-3-O-galactoside</text>
<text x="401.7" y="751.64" font-size="5.25" fill="#111" dominant-baseline="central">Delphinidin-3-O-arabinoside</text>
<text x="401.7" y="758.82" font-size="5.25" fill="#111" dominant-baseline="central">Cyanidin-3,5-O-diglucoside</text>
<text x="401.7" y="765.99" font-size="5.25" fill="#111" dominant-baseline="central">Delphinidin-3-O-glucoside</text>
<text x="401.7" y="773.17" font-size="5.25" fill="#111" dominant-baseline="central">Cyanidin-3-O-rutinoside</text>
<text x="401.7" y="780.34" font-size="5.25" fill="#111" dominant-baseline="central">Cyanidin-3-O-glucoside</text>
<text x="401.7" y="787.52" font-size="5.25" fill="#111" dominant-baseline="central">Pelargonidin-3-O-glucoside</text>
<text x="401.7" y="794.7" font-size="5.25" fill="#111" dominant-baseline="central">Delphinidin-3-O-rutinoside</text>
<text x="401.7" y="801.87" font-size="5.25" fill="#111" dominant-baseline="central">Cyanidin-3-O-arabinoside</text>
<text x="401.7" y="809.05" font-size="5.25" fill="#111" dominant-baseline="central">Pelargonidin-3-O-rutinoside</text>
<text x="401.7" y="816.22" font-size="5.25" fill="#111" dominant-baseline="central">Cyanidin-3-O-sambubioside</text>
<text x="401.7" y="823.4" font-size="5.25" fill="#111" dominant-baseline="central">Cyanidin-3-O-xyloside</text>
<text x="401.7" y="830.57" font-size="5.25" fill="#111" dominant-baseline="central">Peonidin-3-O-rutinoside</text>
<text x="401.7" y="837.75" font-size="5.25" fill="#111" dominant-baseline="central">Cyanidin-3-O-sophoroside</text>
<text x="401.7" y="844.92" font-size="5.25" fill="#111" dominant-baseline="central">Peonidin-3-O-glucoside</text>
<text x="401.7" y="852.1" font-size="5.25" fill="#111" dominant-baseline="central">Cyanidin-3-O-(6-O-malonyl-beta-D-glucoside)</text>
<text x="401.7" y="859.27" font-size="5.25" fill="#111" dominant-baseline="central">Cyanidin-3-O-galactoside</text>
<text x="401.7" y="866.45" font-size="5.25" fill="#111" dominant-baseline="central">Peonidin-3-O-sambubioside</text>
<text x="401.7" y="873.63" font-size="5.25" fill="#111" dominant-baseline="central">Malvidin-3-O-rutinoside</text>
<text x="401.7" y="880.8" font-size="5.25" fill="#111" dominant-baseline="central">Delphinidin-3,5-O-diglucoside</text>
<text x="401.7" y="887.98" font-size="5.25" fill="#111" dominant-baseline="central">Peonidin-3-O-(6''-feruloylsophoroside)-5-glucoside</text>
<text x="401.7" y="895.15" font-size="5.25" fill="#111" dominant-baseline="central">Pelargonidin-3-O-galactoside</text>
<text x="401.7" y="902.33" font-size="5.25" fill="#111" dominant-baseline="central">Dihydrokaempferol</text>
<text x="401.7" y="909.5" font-size="5.25" fill="#111" dominant-baseline="central">Peonidin-3-O-5-O-(6-O-coumaroyl)-diglucoside</text>
<text x="401.7" y="916.68" font-size="5.25" fill="#111" dominant-baseline="central">Naringenin-7-O-glucoside</text>
<text x="401.7" y="923.85" font-size="5.25" fill="#111" dominant-baseline="central">Malvidin-3-O-sambubioside-5-O-glucoside</text>
<text x="401.7" y="931.03" font-size="5.25" fill="#111" dominant-baseline="central">Procyanidin B1</text>
<text x="401.7" y="938.2" font-size="5.25" fill="#111" dominant-baseline="central">Malvidin</text>
<text x="401.7" y="945.38" font-size="5.25" fill="#111" dominant-baseline="central">Delphinidin-3-O-(6-O-malonyl-beta-D-glucoside)</text>
<text x="401.7" y="952.56" font-size="5.25" fill="#111" dominant-baseline="central">Malvidin-3-O-glucoside</text>
<text x="401.7" y="959.73" font-size="5.25" fill="#111" dominant-baseline="central">Procyanidin B2</text>
<text x="401.7" y="966.91" font-size="5.25" fill="#111" dominant-baseline="central">Rutin</text>
<text x="401.7" y="974.08" font-size="5.25" fill="#111" dominant-baseline="central">Cyanidin-3-O-sambubioside-5-O-glucoside</text>
<text x="401.7" y="981.26" font-size="5.25" fill="#111" dominant-baseline="central">Malvidin-3-O-arabinoside</text>
<text x="401.7" y="988.43" font-size="5.25" fill="#111" dominant-baseline="central">Procyanidin B3</text>
<text x="401.7" y="995.61" font-size="5.25" fill="#111" dominant-baseline="central">Procyanidin A2</text>
<text x="401.7" y="1002.78" font-size="5.25" fill="#111" dominant-baseline="central">Kaempferol-3-O-rutinoside</text>
<text x="401.7" y="1009.96" font-size="5.25" fill="#111" dominant-baseline="central">Petunidin-3-O-(6-O-p-coumaroyl)-glucoside</text>
<text x="401.7" y="1017.13" font-size="5.25" fill="#111" dominant-baseline="central">Procyanidin C1</text>
<text x="401.7" y="1024.31" font-size="5.25" fill="#111" dominant-baseline="central">Malvidin-3-O-galactoside</text>
<text x="401.7" y="1031.49" font-size="5.25" fill="#111" dominant-baseline="central">Pelargonidin-3-O-(6-O-p-coumaroyl)-glucoside</text>
<text x="401.7" y="1038.66" font-size="5.25" fill="#111" dominant-baseline="central">Peonidin-3-O-(6-O-p-coumaroyl)-glucoside</text>
<text x="401.7" y="1045.84" font-size="5.25" fill="#111" dominant-baseline="central">Delphinidin-3-O-rutinoside-5-O-glucoside</text>
<text x="401.7" y="1053.01" font-size="5.25" fill="#111" dominant-baseline="central">Delphinidin</text>
<text transform="translate(74.7 1058.6) rotate(-90)" font-size="5.3" fill="#444" text-anchor="end">BY2-S1-3</text>
<text transform="translate(93.3 1058.6) rotate(-90)" font-size="5.3" fill="#444" text-anchor="end">BY2-S1-2</text>
<text transform="translate(111.9 1058.6) rotate(-90)" font-size="5.3" fill="#444" text-anchor="end">BY2-S1-1</text>
<text transform="translate(130.5 1058.6) rotate(-90)" font-size="5.3" fill="#444" text-anchor="end">BY7-S3-3</text>
<text transform="translate(149.1 1058.6) rotate(-90)" font-size="5.3" fill="#444" text-anchor="end">BY7-S3-1</text>
<text transform="translate(167.7 1058.6) rotate(-90)" font-size="5.3" fill="#444" text-anchor="end">BY7-S3-2</text>
<text transform="translate(186.3 1058.6) rotate(-90)" font-size="5.3" fill="#444" text-anchor="end">BY2-S2-3</text>
<text transform="translate(204.9 1058.6) rotate(-90)" font-size="5.3" fill="#444" text-anchor="end">BY2-S2-2</text>
<text transform="translate(223.5 1058.6) rotate(-90)" font-size="5.3" fill="#444" text-anchor="end">BY2-S2-1</text>
<text transform="translate(242.1 1058.6) rotate(-90)" font-size="5.3" fill="#444" text-anchor="end">BY2-S3-2</text>
<text transform="translate(260.7 1058.6) rotate(-90)" font-size="5.3" fill="#444" text-anchor="end">BY2-S3-3</text>
<text transform="translate(279.3 1058.6) rotate(-90)" font-size="5.3" fill="#444" text-anchor="end">BY2-S3-1</text>
<text transform="translate(297.9 1058.6) rotate(-90)" font-size="5.3" fill="#444" text-anchor="end">BY7-S1-3</text>
<text transform="translate(316.5 1058.6) rotate(-90)" font-size="5.3" fill="#444" text-anchor="end">BY7-S1-1</text>
<text transform="translate(335.1 1058.6) rotate(-90)" font-size="5.3" fill="#444" text-anchor="end">BY7-S1-2</text>
<text transform="translate(353.7 1058.6) rotate(-90)" font-size="5.3" fill="#444" text-anchor="end">BY7-S2-3</text>
<text transform="translate(372.3 1058.6) rotate(-90)" font-size="5.3" fill="#444" text-anchor="end">BY7-S2-2</text>
<text transform="translate(390.9 1058.6) rotate(-90)" font-size="5.3" fill="#444" text-anchor="end">BY7-S2-1</text>
<text x="496.5" y="717" font-size="9" fill="#111">Scale</text>
<rect x="498.7" y="720" width="8.5" height="42.4" fill="url(#gC)"/>
<text x="510.6" y="723.5" font-size="6.5" fill="#111" dominant-baseline="central">4</text>
<text x="510.6" y="732.6" font-size="6.5" fill="#111" dominant-baseline="central">2</text>
<text x="510.6" y="741.0" font-size="6.5" fill="#111" dominant-baseline="central">0</text>
<text x="508.3" y="749.8" font-size="6.5" fill="#111" dominant-baseline="central">−2</text>
<text x="508.3" y="758.8" font-size="6.5" fill="#111" dominant-baseline="central">−4</text>
<text x="498.4" y="786" font-size="9" fill="#111">Group</text>
<rect x="498.7" y="790.8" width="6.9" height="7.2" fill="#1b9e77"/>
<text x="507.7" y="794.4" font-size="6.6" fill="#111" dominant-baseline="central">BY2-S1</text>
<rect x="498.7" y="799.32" width="6.9" height="7.2" fill="#d95f02"/>
<text x="507.7" y="802.92" font-size="6.6" fill="#111" dominant-baseline="central">BY2-S2</text>
<rect x="498.7" y="807.84" width="6.9" height="7.2" fill="#7570b3"/>
<text x="507.7" y="811.44" font-size="6.6" fill="#111" dominant-baseline="central">BY2-S3</text>
<rect x="498.7" y="816.36" width="6.9" height="7.2" fill="#e91e8c"/>
<text x="507.7" y="819.96" font-size="6.6" fill="#111" dominant-baseline="central">BY7-S1</text>
<rect x="498.7" y="824.88" width="6.9" height="7.2" fill="#40c8f0"/>
<text x="507.7" y="828.48" font-size="6.6" fill="#111" dominant-baseline="central">BY7-S2</text>
<rect x="498.7" y="833.4" width="6.9" height="7.2" fill="#000000"/>
<text x="507.7" y="837" font-size="6.6" fill="#111" dominant-baseline="central">BY7-S3</text>
<defs><clipPath id="vb1"><circle cx="81" cy="524.8" r="50.3"/></clipPath><clipPath id="vy1"><circle cx="130.7" cy="524.8" r="50.3"/></clipPath></defs>
<circle cx="81" cy="524.8" r="50.3" fill="#62adfc"/>
<circle cx="130.7" cy="524.8" r="50.3" fill="#fed465"/>
<circle cx="105.6" cy="567.6" r="50.3" fill="#da93da"/>
<circle cx="130.7" cy="524.8" r="50.3" fill="#cfbf66" clip-path="url(#vb1)"/>
<circle cx="105.6" cy="567.6" r="50.3" fill="#aa7edb" clip-path="url(#vb1)"/>
<circle cx="105.6" cy="567.6" r="50.3" fill="#dd89ac" clip-path="url(#vy1)"/>
<g clip-path="url(#vy1)"><circle cx="105.6" cy="567.6" r="50.3" fill="#cd84ab" clip-path="url(#vb1)"/></g>
<circle cx="81" cy="524.8" r="50.3" fill="none" stroke="#000" stroke-width="1.4"/>
<circle cx="130.7" cy="524.8" r="50.3" fill="none" stroke="#000" stroke-width="1.4"/>
<circle cx="105.6" cy="567.6" r="50.3" fill="none" stroke="#000" stroke-width="1.4"/>
<text x="58.51" y="511.5" font-size="7.4" font-weight="bold" fill="#2a2a2a" text-anchor="middle" dominant-baseline="central">0</text>
<text x="105.9" y="497.8" font-size="7.4" font-weight="bold" fill="#2a2a2a" text-anchor="middle" dominant-baseline="central">6</text>
<text x="152.59" y="511.5" font-size="7.4" font-weight="bold" fill="#2a2a2a" text-anchor="middle" dominant-baseline="central">0</text>
<text x="105.9" y="538" font-size="7.4" font-weight="bold" fill="#2a2a2a" text-anchor="middle" dominant-baseline="central">10</text>
<text x="70.76" y="558.3" font-size="7.4" font-weight="bold" fill="#2a2a2a" text-anchor="middle" dominant-baseline="central">0</text>
<text x="140.04" y="558.3" font-size="7.4" font-weight="bold" fill="#2a2a2a" text-anchor="middle" dominant-baseline="central">0</text>
<text x="105.9" y="593" font-size="7.4" font-weight="bold" fill="#2a2a2a" text-anchor="middle" dominant-baseline="central">0</text>
<text x="61.75" y="465.4" font-size="5.9" font-weight="bold" fill="#3b8ff0" text-anchor="middle" dominant-baseline="central">BY2-S1_vs_BY2-S2</text>
<text x="148" y="465.4" font-size="5.9" font-weight="bold" fill="#f0bd3a" text-anchor="middle" dominant-baseline="central">BY2-S1_vs_BY2-S3</text>
<text x="105.3" y="626.8" font-size="5.9" font-weight="bold" fill="#cf55cf" text-anchor="middle" dominant-baseline="central">BY2-S2_vs_BY2-S3</text>
<defs><clipPath id="vb2"><circle cx="252" cy="524.8" r="50.3"/></clipPath><clipPath id="vy2"><circle cx="301.5" cy="524.8" r="50.3"/></clipPath></defs>
<circle cx="252" cy="524.8" r="50.3" fill="#62adfc"/>
<circle cx="301.5" cy="524.8" r="50.3" fill="#fed465"/>
<circle cx="276.9" cy="567.6" r="50.3" fill="#da93da"/>
<circle cx="301.5" cy="524.8" r="50.3" fill="#cfbf66" clip-path="url(#vb2)"/>
<circle cx="276.9" cy="567.6" r="50.3" fill="#aa7edb" clip-path="url(#vb2)"/>
<circle cx="276.9" cy="567.6" r="50.3" fill="#dd89ac" clip-path="url(#vy2)"/>
<g clip-path="url(#vy2)"><circle cx="276.9" cy="567.6" r="50.3" fill="#cd84ab" clip-path="url(#vb2)"/></g>
<circle cx="252" cy="524.8" r="50.3" fill="none" stroke="#000" stroke-width="1.4"/>
<circle cx="301.5" cy="524.8" r="50.3" fill="none" stroke="#000" stroke-width="1.4"/>
<circle cx="276.9" cy="567.6" r="50.3" fill="none" stroke="#000" stroke-width="1.4"/>
<text x="229.6" y="511.5" font-size="7.4" font-weight="bold" fill="#2a2a2a" text-anchor="middle" dominant-baseline="central">2</text>
<text x="276.8" y="497.8" font-size="7.4" font-weight="bold" fill="#2a2a2a" text-anchor="middle" dominant-baseline="central">0</text>
<text x="323.3" y="511.5" font-size="7.4" font-weight="bold" fill="#2a2a2a" text-anchor="middle" dominant-baseline="central">3</text>
<text x="276.8" y="538" font-size="7.4" font-weight="bold" fill="#2a2a2a" text-anchor="middle" dominant-baseline="central">1</text>
<text x="241.8" y="558.3" font-size="7.4" font-weight="bold" fill="#2a2a2a" text-anchor="middle" dominant-baseline="central">0</text>
<text x="310.8" y="558.3" font-size="7.4" font-weight="bold" fill="#2a2a2a" text-anchor="middle" dominant-baseline="central">3</text>
<text x="276.8" y="593" font-size="7.4" font-weight="bold" fill="#2a2a2a" text-anchor="middle" dominant-baseline="central">5</text>
<text x="227.5" y="465.4" font-size="5.9" font-weight="bold" fill="#3b8ff0" text-anchor="middle" dominant-baseline="central">BY7-S1_vs_BY2-S1</text>
<text x="322.8" y="465.4" font-size="5.9" font-weight="bold" fill="#f0bd3a" text-anchor="middle" dominant-baseline="central">BY7-S2_vs_BY2-S2</text>
<text x="277.1" y="626.8" font-size="5.9" font-weight="bold" fill="#cf55cf" text-anchor="middle" dominant-baseline="central">BY7-S3_vs_BY2-S3</text>
<defs><clipPath id="vb3"><circle cx="425" cy="524.8" r="50.3"/></clipPath><clipPath id="vy3"><circle cx="475" cy="524.8" r="50.3"/></clipPath></defs>
<circle cx="425" cy="524.8" r="50.3" fill="#62adfc"/>
<circle cx="475" cy="524.8" r="50.3" fill="#fed465"/>
<circle cx="450" cy="567.6" r="50.3" fill="#da93da"/>
<circle cx="475" cy="524.8" r="50.3" fill="#cfbf66" clip-path="url(#vb3)"/>
<circle cx="450" cy="567.6" r="50.3" fill="#aa7edb" clip-path="url(#vb3)"/>
<circle cx="450" cy="567.6" r="50.3" fill="#dd89ac" clip-path="url(#vy3)"/>
<g clip-path="url(#vy3)"><circle cx="450" cy="567.6" r="50.3" fill="#cd84ab" clip-path="url(#vb3)"/></g>
<circle cx="425" cy="524.8" r="50.3" fill="none" stroke="#000" stroke-width="1.4"/>
<circle cx="475" cy="524.8" r="50.3" fill="none" stroke="#000" stroke-width="1.4"/>
<circle cx="450" cy="567.6" r="50.3" fill="none" stroke="#000" stroke-width="1.4"/>
<text x="402.37" y="511.5" font-size="7.4" font-weight="bold" fill="#2a2a2a" text-anchor="middle" dominant-baseline="central">1</text>
<text x="450.05" y="497.8" font-size="7.4" font-weight="bold" fill="#2a2a2a" text-anchor="middle" dominant-baseline="central">2</text>
<text x="497.02" y="511.5" font-size="7.4" font-weight="bold" fill="#2a2a2a" text-anchor="middle" dominant-baseline="central">0</text>
<text x="450.05" y="538" font-size="7.4" font-weight="bold" fill="#2a2a2a" text-anchor="middle" dominant-baseline="central">9</text>
<text x="414.69" y="558.3" font-size="7.4" font-weight="bold" fill="#2a2a2a" text-anchor="middle" dominant-baseline="central">6</text>
<text x="484.39" y="558.3" font-size="7.4" font-weight="bold" fill="#2a2a2a" text-anchor="middle" dominant-baseline="central">0</text>
<text x="450.05" y="593" font-size="7.4" font-weight="bold" fill="#2a2a2a" text-anchor="middle" dominant-baseline="central">1</text>
<text x="403.3" y="465.4" font-size="5.9" font-weight="bold" fill="#3b8ff0" text-anchor="middle" dominant-baseline="central">BY7-S1_vs_BY7-S2</text>
<text x="494.9" y="465.4" font-size="5.9" font-weight="bold" fill="#f0bd3a" text-anchor="middle" dominant-baseline="central">BY7-S2_vs_BY7-S3</text>
<text x="454.5" y="626.8" font-size="5.9" font-weight="bold" fill="#cf55cf" text-anchor="middle" dominant-baseline="central">BY7-S1_vs_BY7-S3</text>
<defs><clipPath id="vb4"><circle cx="85.3" cy="1153.5" r="50.3"/></clipPath><clipPath id="vy4"><circle cx="134.5" cy="1153.5" r="50.3"/></clipPath></defs>
<circle cx="85.3" cy="1153.5" r="50.3" fill="#62adfc"/>
<circle cx="134.5" cy="1153.5" r="50.3" fill="#fed465"/>
<circle cx="110" cy="1196" r="50.3" fill="#da93da"/>
<circle cx="134.5" cy="1153.5" r="50.3" fill="#cfbf66" clip-path="url(#vb4)"/>
<circle cx="110" cy="1196" r="50.3" fill="#aa7edb" clip-path="url(#vb4)"/>
<circle cx="110" cy="1196" r="50.3" fill="#dd89ac" clip-path="url(#vy4)"/>
<g clip-path="url(#vy4)"><circle cx="110" cy="1196" r="50.3" fill="#cd84ab" clip-path="url(#vb4)"/></g>
<circle cx="85.3" cy="1153.5" r="50.3" fill="none" stroke="#000" stroke-width="1.4"/>
<circle cx="134.5" cy="1153.5" r="50.3" fill="none" stroke="#000" stroke-width="1.4"/>
<circle cx="110" cy="1196" r="50.3" fill="none" stroke="#000" stroke-width="1.4"/>
<text x="63.04" y="1140.2" font-size="7.4" font-weight="bold" fill="#2a2a2a" text-anchor="middle" dominant-baseline="central">1</text>
<text x="109.95" y="1126.5" font-size="7.4" font-weight="bold" fill="#2a2a2a" text-anchor="middle" dominant-baseline="central">5</text>
<text x="156.17" y="1140.2" font-size="7.4" font-weight="bold" fill="#2a2a2a" text-anchor="middle" dominant-baseline="central">4</text>
<text x="109.95" y="1166.7" font-size="7.4" font-weight="bold" fill="#2a2a2a" text-anchor="middle" dominant-baseline="central">5</text>
<text x="75.16" y="1187" font-size="7.4" font-weight="bold" fill="#2a2a2a" text-anchor="middle" dominant-baseline="central">3</text>
<text x="143.75" y="1187" font-size="7.4" font-weight="bold" fill="#2a2a2a" text-anchor="middle" dominant-baseline="central">5</text>
<text x="109.95" y="1221.7" font-size="7.4" font-weight="bold" fill="#2a2a2a" text-anchor="middle" dominant-baseline="central">0</text>
<text x="65" y="1094.2" font-size="5.6" font-weight="bold" fill="#3b8ff0" text-anchor="middle" dominant-baseline="central">BY2-S1_vs_BY2-S2</text>
<text x="155.4" y="1094.2" font-size="5.6" font-weight="bold" fill="#f0bd3a" text-anchor="middle" dominant-baseline="central">BY2-S1_vs_BY2-S3</text>
<text x="110" y="1253.7" font-size="5.6" font-weight="bold" fill="#cf55cf" text-anchor="middle" dominant-baseline="central">BY2-S2_vs_BY2-S3</text>
<defs><clipPath id="vb5"><circle cx="255.5" cy="1153.5" r="50.3"/></clipPath><clipPath id="vy5"><circle cx="304" cy="1153.5" r="50.3"/></clipPath></defs>
<circle cx="255.5" cy="1153.5" r="50.3" fill="#62adfc"/>
<circle cx="304" cy="1153.5" r="50.3" fill="#fed465"/>
<circle cx="279.4" cy="1196" r="50.3" fill="#da93da"/>
<circle cx="304" cy="1153.5" r="50.3" fill="#cfbf66" clip-path="url(#vb5)"/>
<circle cx="279.4" cy="1196" r="50.3" fill="#aa7edb" clip-path="url(#vb5)"/>
<circle cx="279.4" cy="1196" r="50.3" fill="#dd89ac" clip-path="url(#vy5)"/>
<g clip-path="url(#vy5)"><circle cx="279.4" cy="1196" r="50.3" fill="#cd84ab" clip-path="url(#vb5)"/></g>
<circle cx="255.5" cy="1153.5" r="50.3" fill="none" stroke="#000" stroke-width="1.4"/>
<circle cx="304" cy="1153.5" r="50.3" fill="none" stroke="#000" stroke-width="1.4"/>
<circle cx="279.4" cy="1196" r="50.3" fill="none" stroke="#000" stroke-width="1.4"/>
<text x="233.56" y="1140.2" font-size="7.4" font-weight="bold" fill="#2a2a2a" text-anchor="middle" dominant-baseline="central">3</text>
<text x="279.81" y="1126.5" font-size="7.4" font-weight="bold" fill="#2a2a2a" text-anchor="middle" dominant-baseline="central">5</text>
<text x="325.37" y="1140.2" font-size="7.4" font-weight="bold" fill="#2a2a2a" text-anchor="middle" dominant-baseline="central">1</text>
<text x="279.81" y="1166.7" font-size="7.4" font-weight="bold" fill="#2a2a2a" text-anchor="middle" dominant-baseline="central">6</text>
<text x="245.51" y="1187" font-size="7.4" font-weight="bold" fill="#2a2a2a" text-anchor="middle" dominant-baseline="central">3</text>
<text x="313.12" y="1187" font-size="7.4" font-weight="bold" fill="#2a2a2a" text-anchor="middle" dominant-baseline="central">14</text>
<text x="279.81" y="1221.7" font-size="7.4" font-weight="bold" fill="#2a2a2a" text-anchor="middle" dominant-baseline="central">6</text>
<text x="231.4" y="1094.2" font-size="5.6" font-weight="bold" fill="#3b8ff0" text-anchor="middle" dominant-baseline="central">BY7-S1_vs_BY2-S1</text>
<text x="325.6" y="1094.2" font-size="5.6" font-weight="bold" fill="#f0bd3a" text-anchor="middle" dominant-baseline="central">BY7-S2_vs_BY2-S2</text>
<text x="280.6" y="1253.7" font-size="5.6" font-weight="bold" fill="#cf55cf" text-anchor="middle" dominant-baseline="central">BY7-S3_vs_BY2-S3</text>
<defs><clipPath id="vb6"><circle cx="425.5" cy="1153.5" r="50.3"/></clipPath><clipPath id="vy6"><circle cx="474.8" cy="1153.5" r="50.3"/></clipPath></defs>
<circle cx="425.5" cy="1153.5" r="50.3" fill="#62adfc"/>
<circle cx="474.8" cy="1153.5" r="50.3" fill="#fed465"/>
<circle cx="450" cy="1196" r="50.3" fill="#da93da"/>
<circle cx="474.8" cy="1153.5" r="50.3" fill="#cfbf66" clip-path="url(#vb6)"/>
<circle cx="450" cy="1196" r="50.3" fill="#aa7edb" clip-path="url(#vb6)"/>
<circle cx="450" cy="1196" r="50.3" fill="#dd89ac" clip-path="url(#vy6)"/>
<g clip-path="url(#vy6)"><circle cx="450" cy="1196" r="50.3" fill="#cd84ab" clip-path="url(#vb6)"/></g>
<circle cx="425.5" cy="1153.5" r="50.3" fill="none" stroke="#000" stroke-width="1.4"/>
<circle cx="474.8" cy="1153.5" r="50.3" fill="none" stroke="#000" stroke-width="1.4"/>
<circle cx="450" cy="1196" r="50.3" fill="none" stroke="#000" stroke-width="1.4"/>
<text x="403.19" y="1140.2" font-size="7.4" font-weight="bold" fill="#2a2a2a" text-anchor="middle" dominant-baseline="central">0</text>
<text x="450.2" y="1126.5" font-size="7.4" font-weight="bold" fill="#2a2a2a" text-anchor="middle" dominant-baseline="central">7</text>
<text x="496.51" y="1140.2" font-size="7.4" font-weight="bold" fill="#2a2a2a" text-anchor="middle" dominant-baseline="central">3</text>
<text x="450.2" y="1166.7" font-size="7.4" font-weight="bold" fill="#2a2a2a" text-anchor="middle" dominant-baseline="central">12</text>
<text x="415.34" y="1187" font-size="7.4" font-weight="bold" fill="#2a2a2a" text-anchor="middle" dominant-baseline="central">6</text>
<text x="484.06" y="1187" font-size="7.4" font-weight="bold" fill="#2a2a2a" text-anchor="middle" dominant-baseline="central">2</text>
<text x="450.2" y="1221.7" font-size="7.4" font-weight="bold" fill="#2a2a2a" text-anchor="middle" dominant-baseline="central">0</text>
<text x="402.2" y="1094.2" font-size="5.6" font-weight="bold" fill="#3b8ff0" text-anchor="middle" dominant-baseline="central">BY7-S1_vs_BY7-S2</text>
<text x="496.6" y="1094.2" font-size="5.6" font-weight="bold" fill="#f0bd3a" text-anchor="middle" dominant-baseline="central">BY7-S2_vs_BY7-S3</text>
<text x="453.4" y="1253.7" font-size="5.6" font-weight="bold" fill="#cf55cf" text-anchor="middle" dominant-baseline="central">BY7-S1_vs_BY7-S3</text>
</svg></body></html>
